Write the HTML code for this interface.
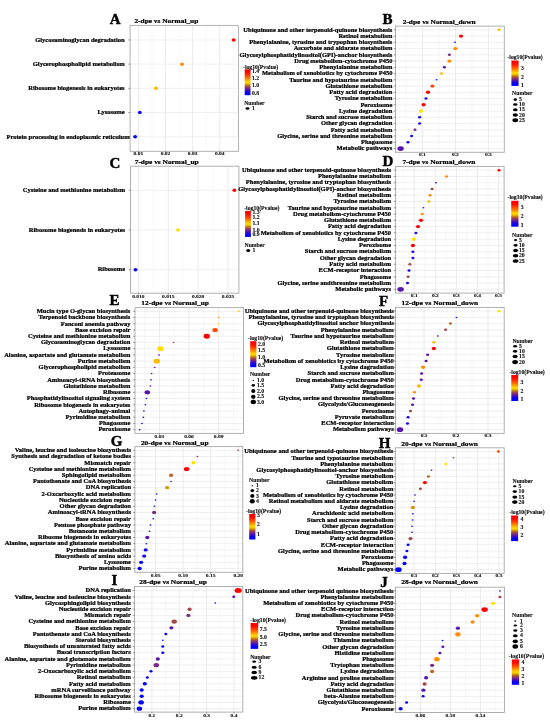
<!DOCTYPE html>
<html><head><meta charset="utf-8"><title>KEGG enrichment bubble plots</title>
<style>
html,body{margin:0;padding:0;background:#fff;}
body{width:550px;height:725px;overflow:hidden;}
svg{display:block;filter:blur(0.3px);}
.b{font-family:"Liberation Serif", "Times New Roman", serif;font-weight:bold;fill:#000;stroke:#000;stroke-width:0.24px;}
.l{font-family:"Liberation Serif", "Times New Roman", serif;font-weight:bold;fill:#111;stroke:#111;stroke-width:0.12px;}
</style></head><body>
<svg width="550" height="725" viewBox="0 0 550 725">
<defs><linearGradient id="cg" x1="0" y1="0" x2="0" y2="1"><stop offset="0" stop-color="#ff0000"/><stop offset="0.1" stop-color="#ff0000"/><stop offset="0.2" stop-color="#ff2a00"/><stop offset="0.3" stop-color="#ff6000"/><stop offset="0.4" stop-color="#ffa000"/><stop offset="0.5" stop-color="#ffe000"/><stop offset="0.58" stop-color="#d8a000"/><stop offset="0.65" stop-color="#b05030"/><stop offset="0.72" stop-color="#80307a"/><stop offset="0.8" stop-color="#5010b0"/><stop offset="0.88" stop-color="#0a05f0"/><stop offset="1" stop-color="#0000fa"/></linearGradient></defs>
<rect width="550" height="725" fill="#fff"/>
<line x1="138.4" y1="25.4" x2="138.4" y2="151.3" stroke="#e2e2e2" stroke-width="0.7"/>
<line x1="151.97" y1="25.4" x2="151.97" y2="151.3" stroke="#efefef" stroke-width="0.5"/>
<line x1="165.53" y1="25.4" x2="165.53" y2="151.3" stroke="#e2e2e2" stroke-width="0.7"/>
<line x1="179.1" y1="25.4" x2="179.1" y2="151.3" stroke="#efefef" stroke-width="0.5"/>
<line x1="192.67" y1="25.4" x2="192.67" y2="151.3" stroke="#e2e2e2" stroke-width="0.7"/>
<line x1="206.23" y1="25.4" x2="206.23" y2="151.3" stroke="#efefef" stroke-width="0.5"/>
<line x1="219.8" y1="25.4" x2="219.8" y2="151.3" stroke="#e2e2e2" stroke-width="0.7"/>
<line x1="233.37" y1="25.4" x2="233.37" y2="151.3" stroke="#efefef" stroke-width="0.5"/>
<line x1="130.1" y1="39.93" x2="238.4" y2="39.93" stroke="#e6e6e6" stroke-width="0.6"/>
<line x1="130.1" y1="64.14" x2="238.4" y2="64.14" stroke="#e6e6e6" stroke-width="0.6"/>
<line x1="130.1" y1="88.35" x2="238.4" y2="88.35" stroke="#e6e6e6" stroke-width="0.6"/>
<line x1="130.1" y1="112.56" x2="238.4" y2="112.56" stroke="#e6e6e6" stroke-width="0.6"/>
<line x1="130.1" y1="136.77" x2="238.4" y2="136.77" stroke="#e6e6e6" stroke-width="0.6"/>
<rect x="130.1" y="25.4" width="108.3" height="125.9" fill="none" stroke="#a8a8a8" stroke-width="0.9"/>
<line x1="128.3" y1="39.93" x2="130.1" y2="39.93" stroke="#555" stroke-width="0.6"/>
<text x="124.6" y="41.68" text-anchor="end" font-size="6.5" class="b">Glycosaminoglycan degradation</text>
<line x1="128.3" y1="64.14" x2="130.1" y2="64.14" stroke="#555" stroke-width="0.6"/>
<text x="124.6" y="65.89" text-anchor="end" font-size="6.5" class="b">Glycerophospholipid metabolism</text>
<line x1="128.3" y1="88.35" x2="130.1" y2="88.35" stroke="#555" stroke-width="0.6"/>
<text x="124.6" y="90.11" text-anchor="end" font-size="6.5" class="b">Ribosome biogenesis in eukaryotes</text>
<line x1="128.3" y1="112.56" x2="130.1" y2="112.56" stroke="#555" stroke-width="0.6"/>
<text x="124.6" y="114.32" text-anchor="end" font-size="6.5" class="b">Lysosome</text>
<line x1="128.3" y1="136.77" x2="130.1" y2="136.77" stroke="#555" stroke-width="0.6"/>
<text x="129.6" y="138.53" text-anchor="end" font-size="6.5" class="b">Protein processing in endoplasmic reticulum</text>
<line x1="138.4" y1="151.3" x2="138.4" y2="152.8" stroke="#555" stroke-width="0.6"/>
<text transform="translate(138.4 155.3) scale(1.1 1)" text-anchor="middle" font-size="5.0" class="l">0.01</text>
<line x1="165.53" y1="151.3" x2="165.53" y2="152.8" stroke="#555" stroke-width="0.6"/>
<text transform="translate(165.53 155.3) scale(1.1 1)" text-anchor="middle" font-size="5.0" class="l">0.02</text>
<line x1="192.67" y1="151.3" x2="192.67" y2="152.8" stroke="#555" stroke-width="0.6"/>
<text transform="translate(192.67 155.3) scale(1.1 1)" text-anchor="middle" font-size="5.0" class="l">0.03</text>
<line x1="219.8" y1="151.3" x2="219.8" y2="152.8" stroke="#555" stroke-width="0.6"/>
<text transform="translate(219.8 155.3) scale(1.1 1)" text-anchor="middle" font-size="5.0" class="l">0.04</text>
<ellipse cx="233.6" cy="39.93" rx="1.95" ry="1.75" fill="#ff0000"/>
<ellipse cx="182" cy="64.14" rx="1.95" ry="1.75" fill="#ff8d00"/>
<ellipse cx="156" cy="88.35" rx="1.95" ry="1.75" fill="#ffba00"/>
<ellipse cx="139.8" cy="112.56" rx="1.95" ry="1.75" fill="#1c08e0"/>
<ellipse cx="135.1" cy="136.77" rx="1.95" ry="1.75" fill="#0302f7"/>
<text x="109.8" y="24.1" font-size="15" class="b" style="stroke-width:0.45px">A</text>
<text transform="translate(134.4 23) scale(1.04 1)" font-size="7.1" class="b">2-dpe vs Normal_up</text>
<rect x="244.7" y="69.3" width="5.8" height="25.9" fill="url(#cg)"/>
<text transform="translate(243 68.72) scale(1.04 1)" font-size="5.5" class="l">-log10(Pvalue)</text>
<text transform="translate(252 72.61) scale(1.04 1)" font-size="5.5" class="l">1.4</text>
<text transform="translate(252 80.02) scale(1.04 1)" font-size="5.5" class="l">1.2</text>
<text transform="translate(252 87.41) scale(1.04 1)" font-size="5.5" class="l">1.0</text>
<text transform="translate(252 94.81) scale(1.04 1)" font-size="5.5" class="l">0.8</text>
<text transform="translate(244.2 104.72) scale(1.04 1)" font-size="5.5" class="l">Number</text>
<ellipse cx="247.5" cy="108.4" rx="2" ry="1.25" fill="#000"/>
<text transform="translate(252.1 110.05) scale(1.04 1)" font-size="5.5" class="l">1</text>
<line x1="405.9" y1="26.1" x2="405.9" y2="152.3" stroke="#efefef" stroke-width="0.5"/>
<line x1="422.4" y1="26.1" x2="422.4" y2="152.3" stroke="#e2e2e2" stroke-width="0.7"/>
<line x1="438.9" y1="26.1" x2="438.9" y2="152.3" stroke="#efefef" stroke-width="0.5"/>
<line x1="455.4" y1="26.1" x2="455.4" y2="152.3" stroke="#e2e2e2" stroke-width="0.7"/>
<line x1="471.9" y1="26.1" x2="471.9" y2="152.3" stroke="#efefef" stroke-width="0.5"/>
<line x1="488.4" y1="26.1" x2="488.4" y2="152.3" stroke="#e2e2e2" stroke-width="0.7"/>
<line x1="395.5" y1="29.85" x2="504.3" y2="29.85" stroke="#e6e6e6" stroke-width="0.6"/>
<line x1="395.5" y1="36.1" x2="504.3" y2="36.1" stroke="#e6e6e6" stroke-width="0.6"/>
<line x1="395.5" y1="42.34" x2="504.3" y2="42.34" stroke="#e6e6e6" stroke-width="0.6"/>
<line x1="395.5" y1="48.59" x2="504.3" y2="48.59" stroke="#e6e6e6" stroke-width="0.6"/>
<line x1="395.5" y1="54.84" x2="504.3" y2="54.84" stroke="#e6e6e6" stroke-width="0.6"/>
<line x1="395.5" y1="61.09" x2="504.3" y2="61.09" stroke="#e6e6e6" stroke-width="0.6"/>
<line x1="395.5" y1="67.33" x2="504.3" y2="67.33" stroke="#e6e6e6" stroke-width="0.6"/>
<line x1="395.5" y1="73.58" x2="504.3" y2="73.58" stroke="#e6e6e6" stroke-width="0.6"/>
<line x1="395.5" y1="79.83" x2="504.3" y2="79.83" stroke="#e6e6e6" stroke-width="0.6"/>
<line x1="395.5" y1="86.08" x2="504.3" y2="86.08" stroke="#e6e6e6" stroke-width="0.6"/>
<line x1="395.5" y1="92.32" x2="504.3" y2="92.32" stroke="#e6e6e6" stroke-width="0.6"/>
<line x1="395.5" y1="98.57" x2="504.3" y2="98.57" stroke="#e6e6e6" stroke-width="0.6"/>
<line x1="395.5" y1="104.82" x2="504.3" y2="104.82" stroke="#e6e6e6" stroke-width="0.6"/>
<line x1="395.5" y1="111.07" x2="504.3" y2="111.07" stroke="#e6e6e6" stroke-width="0.6"/>
<line x1="395.5" y1="117.31" x2="504.3" y2="117.31" stroke="#e6e6e6" stroke-width="0.6"/>
<line x1="395.5" y1="123.56" x2="504.3" y2="123.56" stroke="#e6e6e6" stroke-width="0.6"/>
<line x1="395.5" y1="129.81" x2="504.3" y2="129.81" stroke="#e6e6e6" stroke-width="0.6"/>
<line x1="395.5" y1="136.06" x2="504.3" y2="136.06" stroke="#e6e6e6" stroke-width="0.6"/>
<line x1="395.5" y1="142.3" x2="504.3" y2="142.3" stroke="#e6e6e6" stroke-width="0.6"/>
<line x1="395.5" y1="148.55" x2="504.3" y2="148.55" stroke="#e6e6e6" stroke-width="0.6"/>
<rect x="395.5" y="26.1" width="108.8" height="126.2" fill="none" stroke="#a8a8a8" stroke-width="0.9"/>
<line x1="393.7" y1="29.85" x2="395.5" y2="29.85" stroke="#555" stroke-width="0.6"/>
<text x="392.4" y="31.6" text-anchor="end" font-size="6.5" class="b">Ubiquinone and other terpenoid-quinone biosynthesis</text>
<line x1="393.7" y1="36.1" x2="395.5" y2="36.1" stroke="#555" stroke-width="0.6"/>
<text x="392.4" y="37.85" text-anchor="end" font-size="6.5" class="b">Retinol metabolism</text>
<line x1="393.7" y1="42.34" x2="395.5" y2="42.34" stroke="#555" stroke-width="0.6"/>
<text x="392.4" y="44.1" text-anchor="end" font-size="6.5" class="b">Phenylalanine, tyrosine and trypophan biosynthesis</text>
<line x1="393.7" y1="48.59" x2="395.5" y2="48.59" stroke="#555" stroke-width="0.6"/>
<text x="392.4" y="50.35" text-anchor="end" font-size="6.5" class="b">Ascorbate and aldarate metabolism</text>
<line x1="393.7" y1="54.84" x2="395.5" y2="54.84" stroke="#555" stroke-width="0.6"/>
<text x="392.4" y="56.59" text-anchor="end" font-size="6.5" class="b">Glycosylphosphatidylinositol(GPI)-anchor biosynthesis</text>
<line x1="393.7" y1="61.09" x2="395.5" y2="61.09" stroke="#555" stroke-width="0.6"/>
<text x="392.4" y="62.84" text-anchor="end" font-size="6.5" class="b">Drug metabolism-cytochrome P450</text>
<line x1="393.7" y1="67.33" x2="395.5" y2="67.33" stroke="#555" stroke-width="0.6"/>
<text x="392.4" y="69.09" text-anchor="end" font-size="6.5" class="b">Phenylalanine metabolism</text>
<line x1="393.7" y1="73.58" x2="395.5" y2="73.58" stroke="#555" stroke-width="0.6"/>
<text x="392.4" y="75.34" text-anchor="end" font-size="6.5" class="b">Metabolism of xenobiotics by cytochrome P450</text>
<line x1="393.7" y1="79.83" x2="395.5" y2="79.83" stroke="#555" stroke-width="0.6"/>
<text x="392.4" y="81.58" text-anchor="end" font-size="6.5" class="b">Taurine and hypotaurine metabolism</text>
<line x1="393.7" y1="86.08" x2="395.5" y2="86.08" stroke="#555" stroke-width="0.6"/>
<text x="392.4" y="87.83" text-anchor="end" font-size="6.5" class="b">Glutathione metabolism</text>
<line x1="393.7" y1="92.32" x2="395.5" y2="92.32" stroke="#555" stroke-width="0.6"/>
<text x="392.4" y="94.08" text-anchor="end" font-size="6.5" class="b">Fatty acid degradation</text>
<line x1="393.7" y1="98.57" x2="395.5" y2="98.57" stroke="#555" stroke-width="0.6"/>
<text x="392.4" y="100.33" text-anchor="end" font-size="6.5" class="b">Tyrosine metabolism</text>
<line x1="393.7" y1="104.82" x2="395.5" y2="104.82" stroke="#555" stroke-width="0.6"/>
<text x="392.4" y="106.57" text-anchor="end" font-size="6.5" class="b">Peroxisome</text>
<line x1="393.7" y1="111.07" x2="395.5" y2="111.07" stroke="#555" stroke-width="0.6"/>
<text x="392.4" y="112.82" text-anchor="end" font-size="6.5" class="b">Lysine degradation</text>
<line x1="393.7" y1="117.31" x2="395.5" y2="117.31" stroke="#555" stroke-width="0.6"/>
<text x="392.4" y="119.07" text-anchor="end" font-size="6.5" class="b">Starch and sucrose metabolism</text>
<line x1="393.7" y1="123.56" x2="395.5" y2="123.56" stroke="#555" stroke-width="0.6"/>
<text x="392.4" y="125.32" text-anchor="end" font-size="6.5" class="b">Other glycan degradation</text>
<line x1="393.7" y1="129.81" x2="395.5" y2="129.81" stroke="#555" stroke-width="0.6"/>
<text x="392.4" y="131.56" text-anchor="end" font-size="6.5" class="b">Fatty acid metabolism</text>
<line x1="393.7" y1="136.06" x2="395.5" y2="136.06" stroke="#555" stroke-width="0.6"/>
<text x="392.4" y="137.81" text-anchor="end" font-size="6.5" class="b">Glycine, serine and threonine metabolism</text>
<line x1="393.7" y1="142.3" x2="395.5" y2="142.3" stroke="#555" stroke-width="0.6"/>
<text x="392.4" y="144.06" text-anchor="end" font-size="6.5" class="b">Phagosome</text>
<line x1="393.7" y1="148.55" x2="395.5" y2="148.55" stroke="#555" stroke-width="0.6"/>
<text x="392.4" y="150.31" text-anchor="end" font-size="6.5" class="b">Metabolic pathways</text>
<line x1="422.4" y1="152.3" x2="422.4" y2="153.8" stroke="#555" stroke-width="0.6"/>
<text transform="translate(422.4 156.3) scale(1.1 1)" text-anchor="middle" font-size="5.0" class="l">0.1</text>
<line x1="455.4" y1="152.3" x2="455.4" y2="153.8" stroke="#555" stroke-width="0.6"/>
<text transform="translate(455.4 156.3) scale(1.1 1)" text-anchor="middle" font-size="5.0" class="l">0.2</text>
<line x1="488.4" y1="152.3" x2="488.4" y2="153.8" stroke="#555" stroke-width="0.6"/>
<text transform="translate(488.4 156.3) scale(1.1 1)" text-anchor="middle" font-size="5.0" class="l">0.3</text>
<ellipse cx="499" cy="29.85" rx="1.55" ry="1.25" fill="#ffba00"/>
<ellipse cx="461" cy="36.1" rx="2.1" ry="1.7" fill="#ff0000"/>
<ellipse cx="455" cy="42.34" rx="0.9" ry="0.75" fill="#0302f7"/>
<ellipse cx="455.4" cy="48.59" rx="2.1" ry="1.7" fill="#ff8d00"/>
<ellipse cx="449.4" cy="54.84" rx="1.55" ry="1.25" fill="#7a2c81"/>
<ellipse cx="449.4" cy="61.09" rx="2.1" ry="1.7" fill="#ff8d00"/>
<ellipse cx="444.4" cy="67.33" rx="1.55" ry="1.25" fill="#5614a9"/>
<ellipse cx="441.6" cy="73.58" rx="1.55" ry="1.25" fill="#ffba00"/>
<ellipse cx="436.6" cy="79.83" rx="0.9" ry="0.75" fill="#0302f7"/>
<ellipse cx="432.4" cy="86.08" rx="2.1" ry="1.7" fill="#ff4500"/>
<ellipse cx="428" cy="92.32" rx="2.1" ry="1.7" fill="#ff0000"/>
<ellipse cx="426" cy="98.57" rx="1.55" ry="1.25" fill="#1c08e0"/>
<ellipse cx="423.6" cy="104.82" rx="2.1" ry="1.7" fill="#ff0000"/>
<ellipse cx="421" cy="111.07" rx="2.1" ry="1.7" fill="#ffe000"/>
<ellipse cx="419.6" cy="117.31" rx="1.55" ry="1.25" fill="#1c08e0"/>
<ellipse cx="419.6" cy="123.56" rx="1.55" ry="1.25" fill="#1c08e0"/>
<ellipse cx="415" cy="129.81" rx="1.55" ry="1.25" fill="#7a2c81"/>
<ellipse cx="411.6" cy="136.06" rx="1.55" ry="1.25" fill="#1c08e0"/>
<ellipse cx="408" cy="142.3" rx="1.55" ry="1.25" fill="#1c08e0"/>
<ellipse cx="400.6" cy="148.55" rx="3.2" ry="2.4" fill="#5614a9"/>
<text x="382.4" y="23.5" font-size="15" class="b" style="stroke-width:0.45px">B</text>
<text transform="translate(402.7 23.9) scale(1.04 1)" font-size="7.1" class="b">2-dpe vs Normal_down</text>
<rect x="511.4" y="60.5" width="7.2" height="25.4" fill="url(#cg)"/>
<text transform="translate(507.4 58.52) scale(1.04 1)" font-size="5.5" class="l">-log10(Pvalue)</text>
<text transform="translate(520.9 70.11) scale(1.04 1)" font-size="5.5" class="l">3</text>
<text transform="translate(520.9 79.31) scale(1.04 1)" font-size="5.5" class="l">2</text>
<text transform="translate(520.9 87.11) scale(1.04 1)" font-size="5.5" class="l">1</text>
<text transform="translate(512.1 95.02) scale(1.04 1)" font-size="5.5" class="l">Number</text>
<ellipse cx="515.3" cy="99.6" rx="1.7" ry="1.3" fill="#000"/>
<text transform="translate(519.1 101.25) scale(1.04 1)" font-size="5.5" class="l">5</text>
<ellipse cx="515.3" cy="104.5" rx="2.25" ry="1.3" fill="#000"/>
<text transform="translate(519.1 106.15) scale(1.04 1)" font-size="5.5" class="l">10</text>
<ellipse cx="515.3" cy="109.7" rx="2.35" ry="1.55" fill="#000"/>
<text transform="translate(519.1 111.35) scale(1.04 1)" font-size="5.5" class="l">15</text>
<ellipse cx="515.3" cy="115" rx="2.65" ry="1.8" fill="#000"/>
<text transform="translate(519.1 116.65) scale(1.04 1)" font-size="5.5" class="l">20</text>
<ellipse cx="515.3" cy="120.2" rx="2.9" ry="1.95" fill="#000"/>
<text transform="translate(519.1 121.85) scale(1.04 1)" font-size="5.5" class="l">25</text>
<line x1="138.4" y1="166.2" x2="138.4" y2="293.2" stroke="#e2e2e2" stroke-width="0.7"/>
<line x1="153.33" y1="166.2" x2="153.33" y2="293.2" stroke="#efefef" stroke-width="0.5"/>
<line x1="168.27" y1="166.2" x2="168.27" y2="293.2" stroke="#e2e2e2" stroke-width="0.7"/>
<line x1="183.2" y1="166.2" x2="183.2" y2="293.2" stroke="#efefef" stroke-width="0.5"/>
<line x1="198.13" y1="166.2" x2="198.13" y2="293.2" stroke="#e2e2e2" stroke-width="0.7"/>
<line x1="213.07" y1="166.2" x2="213.07" y2="293.2" stroke="#efefef" stroke-width="0.5"/>
<line x1="228" y1="166.2" x2="228" y2="293.2" stroke="#e2e2e2" stroke-width="0.7"/>
<line x1="130.6" y1="190.31" x2="238.9" y2="190.31" stroke="#e6e6e6" stroke-width="0.6"/>
<line x1="130.6" y1="230" x2="238.9" y2="230" stroke="#e6e6e6" stroke-width="0.6"/>
<line x1="130.6" y1="269.69" x2="238.9" y2="269.69" stroke="#e6e6e6" stroke-width="0.6"/>
<rect x="130.6" y="166.2" width="108.3" height="127" fill="none" stroke="#a8a8a8" stroke-width="0.9"/>
<line x1="128.8" y1="190.31" x2="130.6" y2="190.31" stroke="#555" stroke-width="0.6"/>
<text x="125.1" y="192.07" text-anchor="end" font-size="6.5" class="b">Cysteine and methionine metabolism</text>
<line x1="128.8" y1="230" x2="130.6" y2="230" stroke="#555" stroke-width="0.6"/>
<text x="125.1" y="231.75" text-anchor="end" font-size="6.5" class="b">Ribosome biogenesis in eukaryotes</text>
<line x1="128.8" y1="269.69" x2="130.6" y2="269.69" stroke="#555" stroke-width="0.6"/>
<text x="125.1" y="271.44" text-anchor="end" font-size="6.5" class="b">Ribosome</text>
<line x1="138.4" y1="293.2" x2="138.4" y2="294.7" stroke="#555" stroke-width="0.6"/>
<text transform="translate(138.4 298.4) scale(1.1 1)" text-anchor="middle" font-size="5.0" class="l">0.010</text>
<line x1="168.27" y1="293.2" x2="168.27" y2="294.7" stroke="#555" stroke-width="0.6"/>
<text transform="translate(168.27 298.4) scale(1.1 1)" text-anchor="middle" font-size="5.0" class="l">0.015</text>
<line x1="198.13" y1="293.2" x2="198.13" y2="294.7" stroke="#555" stroke-width="0.6"/>
<text transform="translate(198.13 298.4) scale(1.1 1)" text-anchor="middle" font-size="5.0" class="l">0.020</text>
<line x1="228" y1="293.2" x2="228" y2="294.7" stroke="#555" stroke-width="0.6"/>
<text transform="translate(228 298.4) scale(1.1 1)" text-anchor="middle" font-size="5.0" class="l">0.025</text>
<ellipse cx="234.4" cy="190.31" rx="1.95" ry="1.75" fill="#ff0000"/>
<ellipse cx="178" cy="230" rx="1.95" ry="1.75" fill="#ffe000"/>
<ellipse cx="135.5" cy="269.69" rx="1.95" ry="1.75" fill="#0302f7"/>
<text x="109.5" y="167.7" font-size="15" class="b" style="stroke-width:0.45px">C</text>
<text transform="translate(134.7 164.1) scale(1.04 1)" font-size="7.1" class="b">7-dpe vs Normal_up</text>
<rect x="245.1" y="210.9" width="5.8" height="26.1" fill="url(#cg)"/>
<text transform="translate(244.2 209.81) scale(1.04 1)" font-size="5.5" class="l">-log10(Pvalue)</text>
<text transform="translate(252.4 213.72) scale(1.04 1)" font-size="5.5" class="l">1.3</text>
<text transform="translate(252.4 218.81) scale(1.04 1)" font-size="5.5" class="l">1.2</text>
<text transform="translate(252.4 225.31) scale(1.04 1)" font-size="5.5" class="l">1.1</text>
<text transform="translate(252.4 232.01) scale(1.04 1)" font-size="5.5" class="l">1.0</text>
<text transform="translate(252.4 236.41) scale(1.04 1)" font-size="5.5" class="l">0.9</text>
<text transform="translate(244.5 247.22) scale(1.04 1)" font-size="5.5" class="l">Number</text>
<ellipse cx="248.2" cy="250.5" rx="2" ry="1.5" fill="#000"/>
<text transform="translate(252.6 252.15) scale(1.04 1)" font-size="5.5" class="l">1</text>
<line x1="403.78" y1="166.4" x2="403.78" y2="293.1" stroke="#efefef" stroke-width="0.5"/>
<line x1="414.3" y1="166.4" x2="414.3" y2="293.1" stroke="#e2e2e2" stroke-width="0.7"/>
<line x1="424.82" y1="166.4" x2="424.82" y2="293.1" stroke="#efefef" stroke-width="0.5"/>
<line x1="435.35" y1="166.4" x2="435.35" y2="293.1" stroke="#e2e2e2" stroke-width="0.7"/>
<line x1="445.88" y1="166.4" x2="445.88" y2="293.1" stroke="#efefef" stroke-width="0.5"/>
<line x1="456.4" y1="166.4" x2="456.4" y2="293.1" stroke="#e2e2e2" stroke-width="0.7"/>
<line x1="466.93" y1="166.4" x2="466.93" y2="293.1" stroke="#efefef" stroke-width="0.5"/>
<line x1="477.45" y1="166.4" x2="477.45" y2="293.1" stroke="#e2e2e2" stroke-width="0.7"/>
<line x1="487.98" y1="166.4" x2="487.98" y2="293.1" stroke="#efefef" stroke-width="0.5"/>
<line x1="498.5" y1="166.4" x2="498.5" y2="293.1" stroke="#e2e2e2" stroke-width="0.7"/>
<line x1="395.6" y1="170.16" x2="504.1" y2="170.16" stroke="#e6e6e6" stroke-width="0.6"/>
<line x1="395.6" y1="176.44" x2="504.1" y2="176.44" stroke="#e6e6e6" stroke-width="0.6"/>
<line x1="395.6" y1="182.71" x2="504.1" y2="182.71" stroke="#e6e6e6" stroke-width="0.6"/>
<line x1="395.6" y1="188.98" x2="504.1" y2="188.98" stroke="#e6e6e6" stroke-width="0.6"/>
<line x1="395.6" y1="195.25" x2="504.1" y2="195.25" stroke="#e6e6e6" stroke-width="0.6"/>
<line x1="395.6" y1="201.52" x2="504.1" y2="201.52" stroke="#e6e6e6" stroke-width="0.6"/>
<line x1="395.6" y1="207.8" x2="504.1" y2="207.8" stroke="#e6e6e6" stroke-width="0.6"/>
<line x1="395.6" y1="214.07" x2="504.1" y2="214.07" stroke="#e6e6e6" stroke-width="0.6"/>
<line x1="395.6" y1="220.34" x2="504.1" y2="220.34" stroke="#e6e6e6" stroke-width="0.6"/>
<line x1="395.6" y1="226.61" x2="504.1" y2="226.61" stroke="#e6e6e6" stroke-width="0.6"/>
<line x1="395.6" y1="232.89" x2="504.1" y2="232.89" stroke="#e6e6e6" stroke-width="0.6"/>
<line x1="395.6" y1="239.16" x2="504.1" y2="239.16" stroke="#e6e6e6" stroke-width="0.6"/>
<line x1="395.6" y1="245.43" x2="504.1" y2="245.43" stroke="#e6e6e6" stroke-width="0.6"/>
<line x1="395.6" y1="251.7" x2="504.1" y2="251.7" stroke="#e6e6e6" stroke-width="0.6"/>
<line x1="395.6" y1="257.98" x2="504.1" y2="257.98" stroke="#e6e6e6" stroke-width="0.6"/>
<line x1="395.6" y1="264.25" x2="504.1" y2="264.25" stroke="#e6e6e6" stroke-width="0.6"/>
<line x1="395.6" y1="270.52" x2="504.1" y2="270.52" stroke="#e6e6e6" stroke-width="0.6"/>
<line x1="395.6" y1="276.79" x2="504.1" y2="276.79" stroke="#e6e6e6" stroke-width="0.6"/>
<line x1="395.6" y1="283.06" x2="504.1" y2="283.06" stroke="#e6e6e6" stroke-width="0.6"/>
<line x1="395.6" y1="289.34" x2="504.1" y2="289.34" stroke="#e6e6e6" stroke-width="0.6"/>
<rect x="395.6" y="166.4" width="108.5" height="126.7" fill="none" stroke="#a8a8a8" stroke-width="0.9"/>
<line x1="393.8" y1="170.16" x2="395.6" y2="170.16" stroke="#555" stroke-width="0.6"/>
<text x="391.1" y="171.92" text-anchor="end" font-size="6.5" class="b">Ubiquinone and other terpenoid-quinone biosynthesis</text>
<line x1="393.8" y1="176.44" x2="395.6" y2="176.44" stroke="#555" stroke-width="0.6"/>
<text x="391.1" y="178.19" text-anchor="end" font-size="6.5" class="b">Phenylalanine metabolism</text>
<line x1="393.8" y1="182.71" x2="395.6" y2="182.71" stroke="#555" stroke-width="0.6"/>
<text x="391.1" y="184.46" text-anchor="end" font-size="6.5" class="b">Phenylalanine, tyrosine and tryptophan biosynthesis</text>
<line x1="393.8" y1="188.98" x2="395.6" y2="188.98" stroke="#555" stroke-width="0.6"/>
<text x="391.1" y="190.74" text-anchor="end" font-size="6.5" class="b">Glycosylphosphatidylinositol(GPI)-anchor biosynthesis</text>
<line x1="393.8" y1="195.25" x2="395.6" y2="195.25" stroke="#555" stroke-width="0.6"/>
<text x="391.1" y="197.01" text-anchor="end" font-size="6.5" class="b">Retinol metabolism</text>
<line x1="393.8" y1="201.52" x2="395.6" y2="201.52" stroke="#555" stroke-width="0.6"/>
<text x="391.1" y="203.28" text-anchor="end" font-size="6.5" class="b">Tyrosine metabolism</text>
<line x1="393.8" y1="207.8" x2="395.6" y2="207.8" stroke="#555" stroke-width="0.6"/>
<text x="391.1" y="209.55" text-anchor="end" font-size="6.5" class="b">Taurine and hypotaurine metabolism</text>
<line x1="393.8" y1="214.07" x2="395.6" y2="214.07" stroke="#555" stroke-width="0.6"/>
<text x="391.1" y="215.82" text-anchor="end" font-size="6.5" class="b">Drug metabolism-cytochrome P450</text>
<line x1="393.8" y1="220.34" x2="395.6" y2="220.34" stroke="#555" stroke-width="0.6"/>
<text x="391.1" y="222.1" text-anchor="end" font-size="6.5" class="b">Glutathione metabolism</text>
<line x1="393.8" y1="226.61" x2="395.6" y2="226.61" stroke="#555" stroke-width="0.6"/>
<text x="391.1" y="228.37" text-anchor="end" font-size="6.5" class="b">Fatty acid degradation</text>
<line x1="393.8" y1="232.89" x2="395.6" y2="232.89" stroke="#555" stroke-width="0.6"/>
<text x="391.1" y="234.64" text-anchor="end" font-size="6.5" class="b">Metabolism of xenobiotics by cytochrome P450</text>
<line x1="393.8" y1="239.16" x2="395.6" y2="239.16" stroke="#555" stroke-width="0.6"/>
<text x="391.1" y="240.91" text-anchor="end" font-size="6.5" class="b">Lysine degradation</text>
<line x1="393.8" y1="245.43" x2="395.6" y2="245.43" stroke="#555" stroke-width="0.6"/>
<text x="391.1" y="247.19" text-anchor="end" font-size="6.5" class="b">Peroxisome</text>
<line x1="393.8" y1="251.7" x2="395.6" y2="251.7" stroke="#555" stroke-width="0.6"/>
<text x="391.1" y="253.46" text-anchor="end" font-size="6.5" class="b">Starch and sucrose metabolism</text>
<line x1="393.8" y1="257.98" x2="395.6" y2="257.98" stroke="#555" stroke-width="0.6"/>
<text x="391.1" y="259.73" text-anchor="end" font-size="6.5" class="b">Other glycan degradation</text>
<line x1="393.8" y1="264.25" x2="395.6" y2="264.25" stroke="#555" stroke-width="0.6"/>
<text x="391.1" y="266" text-anchor="end" font-size="6.5" class="b">Fatty acid metabolism</text>
<line x1="393.8" y1="270.52" x2="395.6" y2="270.52" stroke="#555" stroke-width="0.6"/>
<text x="391.1" y="272.27" text-anchor="end" font-size="6.5" class="b">ECM-receptor interaction</text>
<line x1="393.8" y1="276.79" x2="395.6" y2="276.79" stroke="#555" stroke-width="0.6"/>
<text x="391.1" y="278.55" text-anchor="end" font-size="6.5" class="b">Phagosome</text>
<line x1="393.8" y1="283.06" x2="395.6" y2="283.06" stroke="#555" stroke-width="0.6"/>
<text x="391.1" y="284.82" text-anchor="end" font-size="6.5" class="b">Glycine, serine andthreonine metabolism</text>
<line x1="393.8" y1="289.34" x2="395.6" y2="289.34" stroke="#555" stroke-width="0.6"/>
<text x="391.1" y="291.09" text-anchor="end" font-size="6.5" class="b">Metabolic pathways</text>
<line x1="414.3" y1="293.1" x2="414.3" y2="294.6" stroke="#555" stroke-width="0.6"/>
<text transform="translate(414.3 297.1) scale(1.1 1)" text-anchor="middle" font-size="5.0" class="l">0.1</text>
<line x1="435.35" y1="293.1" x2="435.35" y2="294.6" stroke="#555" stroke-width="0.6"/>
<text transform="translate(435.35 297.1) scale(1.1 1)" text-anchor="middle" font-size="5.0" class="l">0.2</text>
<line x1="456.4" y1="293.1" x2="456.4" y2="294.6" stroke="#555" stroke-width="0.6"/>
<text transform="translate(456.4 297.1) scale(1.1 1)" text-anchor="middle" font-size="5.0" class="l">0.3</text>
<line x1="477.45" y1="293.1" x2="477.45" y2="294.6" stroke="#555" stroke-width="0.6"/>
<text transform="translate(477.45 297.1) scale(1.1 1)" text-anchor="middle" font-size="5.0" class="l">0.4</text>
<line x1="498.5" y1="293.1" x2="498.5" y2="294.6" stroke="#555" stroke-width="0.6"/>
<text transform="translate(498.5 297.1) scale(1.1 1)" text-anchor="middle" font-size="5.0" class="l">0.5</text>
<ellipse cx="499" cy="170.16" rx="1.55" ry="1.25" fill="#ff0000"/>
<ellipse cx="446.5" cy="176.44" rx="1.55" ry="1.25" fill="#ff8d00"/>
<ellipse cx="436" cy="182.71" rx="0.9" ry="0.75" fill="#0302f7"/>
<ellipse cx="432.1" cy="188.98" rx="1.55" ry="1.25" fill="#a24745"/>
<ellipse cx="430" cy="195.25" rx="1.55" ry="1.25" fill="#ff8d00"/>
<ellipse cx="428.8" cy="201.52" rx="1.55" ry="1.25" fill="#ffba00"/>
<ellipse cx="423.4" cy="207.8" rx="0.9" ry="0.75" fill="#1c08e0"/>
<ellipse cx="422.2" cy="214.07" rx="1.55" ry="1.25" fill="#ff8d00"/>
<ellipse cx="421" cy="220.34" rx="2.1" ry="1.7" fill="#ff0000"/>
<ellipse cx="418" cy="226.61" rx="2.1" ry="1.7" fill="#ff0000"/>
<ellipse cx="415.9" cy="232.89" rx="1.55" ry="1.25" fill="#1c08e0"/>
<ellipse cx="413.8" cy="239.16" rx="2.1" ry="1.7" fill="#ffe000"/>
<ellipse cx="412.9" cy="245.43" rx="2.1" ry="1.7" fill="#ff0000"/>
<ellipse cx="412.9" cy="251.7" rx="1.55" ry="1.25" fill="#1c08e0"/>
<ellipse cx="412.9" cy="257.98" rx="1.55" ry="1.25" fill="#1c08e0"/>
<ellipse cx="409.9" cy="264.25" rx="1.55" ry="1.25" fill="#a24745"/>
<ellipse cx="409" cy="270.52" rx="1.55" ry="1.25" fill="#1c08e0"/>
<ellipse cx="408.1" cy="276.79" rx="1.55" ry="1.25" fill="#a24745"/>
<ellipse cx="407.5" cy="283.06" rx="1.55" ry="1.25" fill="#1c08e0"/>
<ellipse cx="400.6" cy="289.34" rx="3.2" ry="2.4" fill="#5614a9"/>
<text x="382.4" y="166" font-size="15" class="b" style="stroke-width:0.45px">D</text>
<text transform="translate(402.4 164.2) scale(1.04 1)" font-size="7.1" class="b">7-dpe vs Normal_down</text>
<rect x="511.2" y="200.8" width="7.3" height="25.9" fill="url(#cg)"/>
<text transform="translate(507.5 199.41) scale(1.04 1)" font-size="5.5" class="l">-log10(Pvalue)</text>
<text transform="translate(520.8 209.12) scale(1.04 1)" font-size="5.5" class="l">3</text>
<text transform="translate(520.8 218.22) scale(1.04 1)" font-size="5.5" class="l">2</text>
<text transform="translate(520.8 226.72) scale(1.04 1)" font-size="5.5" class="l">1</text>
<text transform="translate(512.1 237.31) scale(1.04 1)" font-size="5.5" class="l">Number</text>
<ellipse cx="515.6" cy="240.1" rx="1.55" ry="1.15" fill="#000"/>
<text transform="translate(519 241.75) scale(1.04 1)" font-size="5.5" class="l">5</text>
<ellipse cx="515.6" cy="245.3" rx="2.15" ry="1.35" fill="#000"/>
<text transform="translate(519 246.95) scale(1.04 1)" font-size="5.5" class="l">10</text>
<ellipse cx="515.6" cy="250.5" rx="2.5" ry="1.7" fill="#000"/>
<text transform="translate(519 252.15) scale(1.04 1)" font-size="5.5" class="l">15</text>
<ellipse cx="515.6" cy="255.8" rx="2.8" ry="1.8" fill="#000"/>
<text transform="translate(519 257.45) scale(1.04 1)" font-size="5.5" class="l">20</text>
<ellipse cx="515.6" cy="261" rx="2.9" ry="1.8" fill="#000"/>
<text transform="translate(519 262.65) scale(1.04 1)" font-size="5.5" class="l">25</text>
<line x1="144.6" y1="307.6" x2="144.6" y2="433.4" stroke="#efefef" stroke-width="0.5"/>
<line x1="159.4" y1="307.6" x2="159.4" y2="433.4" stroke="#e2e2e2" stroke-width="0.7"/>
<line x1="174.2" y1="307.6" x2="174.2" y2="433.4" stroke="#efefef" stroke-width="0.5"/>
<line x1="189" y1="307.6" x2="189" y2="433.4" stroke="#e2e2e2" stroke-width="0.7"/>
<line x1="203.8" y1="307.6" x2="203.8" y2="433.4" stroke="#efefef" stroke-width="0.5"/>
<line x1="218.6" y1="307.6" x2="218.6" y2="433.4" stroke="#e2e2e2" stroke-width="0.7"/>
<line x1="233.4" y1="307.6" x2="233.4" y2="433.4" stroke="#efefef" stroke-width="0.5"/>
<line x1="135" y1="311.34" x2="243.5" y2="311.34" stroke="#e6e6e6" stroke-width="0.6"/>
<line x1="135" y1="317.56" x2="243.5" y2="317.56" stroke="#e6e6e6" stroke-width="0.6"/>
<line x1="135" y1="323.79" x2="243.5" y2="323.79" stroke="#e6e6e6" stroke-width="0.6"/>
<line x1="135" y1="330.02" x2="243.5" y2="330.02" stroke="#e6e6e6" stroke-width="0.6"/>
<line x1="135" y1="336.25" x2="243.5" y2="336.25" stroke="#e6e6e6" stroke-width="0.6"/>
<line x1="135" y1="342.48" x2="243.5" y2="342.48" stroke="#e6e6e6" stroke-width="0.6"/>
<line x1="135" y1="348.7" x2="243.5" y2="348.7" stroke="#e6e6e6" stroke-width="0.6"/>
<line x1="135" y1="354.93" x2="243.5" y2="354.93" stroke="#e6e6e6" stroke-width="0.6"/>
<line x1="135" y1="361.16" x2="243.5" y2="361.16" stroke="#e6e6e6" stroke-width="0.6"/>
<line x1="135" y1="367.39" x2="243.5" y2="367.39" stroke="#e6e6e6" stroke-width="0.6"/>
<line x1="135" y1="373.61" x2="243.5" y2="373.61" stroke="#e6e6e6" stroke-width="0.6"/>
<line x1="135" y1="379.84" x2="243.5" y2="379.84" stroke="#e6e6e6" stroke-width="0.6"/>
<line x1="135" y1="386.07" x2="243.5" y2="386.07" stroke="#e6e6e6" stroke-width="0.6"/>
<line x1="135" y1="392.3" x2="243.5" y2="392.3" stroke="#e6e6e6" stroke-width="0.6"/>
<line x1="135" y1="398.52" x2="243.5" y2="398.52" stroke="#e6e6e6" stroke-width="0.6"/>
<line x1="135" y1="404.75" x2="243.5" y2="404.75" stroke="#e6e6e6" stroke-width="0.6"/>
<line x1="135" y1="410.98" x2="243.5" y2="410.98" stroke="#e6e6e6" stroke-width="0.6"/>
<line x1="135" y1="417.21" x2="243.5" y2="417.21" stroke="#e6e6e6" stroke-width="0.6"/>
<line x1="135" y1="423.44" x2="243.5" y2="423.44" stroke="#e6e6e6" stroke-width="0.6"/>
<line x1="135" y1="429.66" x2="243.5" y2="429.66" stroke="#e6e6e6" stroke-width="0.6"/>
<rect x="135" y="307.6" width="108.5" height="125.8" fill="none" stroke="#a8a8a8" stroke-width="0.9"/>
<line x1="133.2" y1="311.34" x2="135" y2="311.34" stroke="#555" stroke-width="0.6"/>
<text x="130.4" y="313.09" text-anchor="end" font-size="6.5" class="b">Mucin type O-glycan biosynthesis</text>
<line x1="133.2" y1="317.56" x2="135" y2="317.56" stroke="#555" stroke-width="0.6"/>
<text x="130.4" y="319.32" text-anchor="end" font-size="6.5" class="b">Terpenoid backbone biosynthesis</text>
<line x1="133.2" y1="323.79" x2="135" y2="323.79" stroke="#555" stroke-width="0.6"/>
<text x="130.4" y="325.55" text-anchor="end" font-size="6.5" class="b">Fanconi anemia pathway</text>
<line x1="133.2" y1="330.02" x2="135" y2="330.02" stroke="#555" stroke-width="0.6"/>
<text x="130.4" y="331.77" text-anchor="end" font-size="6.5" class="b">Base excision repair</text>
<line x1="133.2" y1="336.25" x2="135" y2="336.25" stroke="#555" stroke-width="0.6"/>
<text x="130.4" y="338" text-anchor="end" font-size="6.5" class="b">Cysteine and methionine metabolism</text>
<line x1="133.2" y1="342.48" x2="135" y2="342.48" stroke="#555" stroke-width="0.6"/>
<text x="130.4" y="344.23" text-anchor="end" font-size="6.5" class="b">Glycosaminoglycan degradation</text>
<line x1="133.2" y1="348.7" x2="135" y2="348.7" stroke="#555" stroke-width="0.6"/>
<text x="130.4" y="350.46" text-anchor="end" font-size="6.5" class="b">Lysosome</text>
<line x1="133.2" y1="354.93" x2="135" y2="354.93" stroke="#555" stroke-width="0.6"/>
<text x="130.4" y="356.69" text-anchor="end" font-size="6.5" class="b">Alanine, aspartate and glutamate metabolism</text>
<line x1="133.2" y1="361.16" x2="135" y2="361.16" stroke="#555" stroke-width="0.6"/>
<text x="130.4" y="362.91" text-anchor="end" font-size="6.5" class="b">Purine metabolism</text>
<line x1="133.2" y1="367.39" x2="135" y2="367.39" stroke="#555" stroke-width="0.6"/>
<text x="130.4" y="369.14" text-anchor="end" font-size="6.5" class="b">Glycerophospholipid metabolism</text>
<line x1="133.2" y1="373.61" x2="135" y2="373.61" stroke="#555" stroke-width="0.6"/>
<text x="130.4" y="375.37" text-anchor="end" font-size="6.5" class="b">Proteasome</text>
<line x1="133.2" y1="379.84" x2="135" y2="379.84" stroke="#555" stroke-width="0.6"/>
<text x="130.4" y="381.6" text-anchor="end" font-size="6.5" class="b">Aminoacyl-tRNA biosynthesis</text>
<line x1="133.2" y1="386.07" x2="135" y2="386.07" stroke="#555" stroke-width="0.6"/>
<text x="130.4" y="387.82" text-anchor="end" font-size="6.5" class="b">Glutathione metabolism</text>
<line x1="133.2" y1="392.3" x2="135" y2="392.3" stroke="#555" stroke-width="0.6"/>
<text x="130.4" y="394.05" text-anchor="end" font-size="6.5" class="b">Ribosome</text>
<line x1="133.2" y1="398.52" x2="135" y2="398.52" stroke="#555" stroke-width="0.6"/>
<text x="130.4" y="400.28" text-anchor="end" font-size="6.5" class="b">Phosphatidylinositol signaling system</text>
<line x1="133.2" y1="404.75" x2="135" y2="404.75" stroke="#555" stroke-width="0.6"/>
<text x="130.4" y="406.51" text-anchor="end" font-size="6.5" class="b">Ribosome biogenesis in eukaryotes</text>
<line x1="133.2" y1="410.98" x2="135" y2="410.98" stroke="#555" stroke-width="0.6"/>
<text x="130.4" y="412.74" text-anchor="end" font-size="6.5" class="b">Autophagy-animal</text>
<line x1="133.2" y1="417.21" x2="135" y2="417.21" stroke="#555" stroke-width="0.6"/>
<text x="130.4" y="418.96" text-anchor="end" font-size="6.5" class="b">Pyrimidine metabolism</text>
<line x1="133.2" y1="423.44" x2="135" y2="423.44" stroke="#555" stroke-width="0.6"/>
<text x="130.4" y="425.19" text-anchor="end" font-size="6.5" class="b">Phagosome</text>
<line x1="133.2" y1="429.66" x2="135" y2="429.66" stroke="#555" stroke-width="0.6"/>
<text x="130.4" y="431.42" text-anchor="end" font-size="6.5" class="b">Peroxisome</text>
<line x1="159.4" y1="433.4" x2="159.4" y2="434.9" stroke="#555" stroke-width="0.6"/>
<text transform="translate(159.4 438.4) scale(1.1 1)" text-anchor="middle" font-size="5.0" class="l">0.03</text>
<line x1="189" y1="433.4" x2="189" y2="434.9" stroke="#555" stroke-width="0.6"/>
<text transform="translate(189 438.4) scale(1.1 1)" text-anchor="middle" font-size="5.0" class="l">0.06</text>
<line x1="218.6" y1="433.4" x2="218.6" y2="434.9" stroke="#555" stroke-width="0.6"/>
<text transform="translate(218.6 438.4) scale(1.1 1)" text-anchor="middle" font-size="5.0" class="l">0.09</text>
<ellipse cx="238.7" cy="311.34" rx="0.9" ry="0.75" fill="#ffba00"/>
<ellipse cx="218.8" cy="317.56" rx="0.9" ry="0.75" fill="#ff8d00"/>
<ellipse cx="218.8" cy="323.79" rx="0.9" ry="0.75" fill="#ffba00"/>
<ellipse cx="215.1" cy="330.02" rx="2.75" ry="2.1" fill="#ff4500"/>
<ellipse cx="206.8" cy="336.25" rx="3.2" ry="2.4" fill="#ff0000"/>
<ellipse cx="173.6" cy="342.48" rx="0.9" ry="0.75" fill="#a24745"/>
<ellipse cx="160.5" cy="348.7" rx="3.2" ry="2.4" fill="#ffe000"/>
<ellipse cx="159" cy="354.93" rx="0.9" ry="0.75" fill="#5614a9"/>
<ellipse cx="156.8" cy="361.16" rx="3.2" ry="2.4" fill="#ffba00"/>
<ellipse cx="154.7" cy="367.39" rx="0.9" ry="0.75" fill="#5614a9"/>
<ellipse cx="151.6" cy="373.61" rx="0.9" ry="0.75" fill="#5614a9"/>
<ellipse cx="151" cy="379.84" rx="0.9" ry="0.75" fill="#5614a9"/>
<ellipse cx="150.4" cy="386.07" rx="0.9" ry="0.75" fill="#5614a9"/>
<ellipse cx="147.3" cy="392.3" rx="2.75" ry="2.1" fill="#5614a9"/>
<ellipse cx="146.4" cy="398.52" rx="0.9" ry="0.75" fill="#1c08e0"/>
<ellipse cx="145.4" cy="404.75" rx="0.9" ry="0.75" fill="#1c08e0"/>
<ellipse cx="143.9" cy="410.98" rx="0.9" ry="0.75" fill="#1c08e0"/>
<ellipse cx="143.3" cy="417.21" rx="0.9" ry="0.75" fill="#1c08e0"/>
<ellipse cx="142" cy="423.44" rx="0.9" ry="0.75" fill="#1c08e0"/>
<ellipse cx="139.6" cy="429.66" rx="0.9" ry="0.75" fill="#0302f7"/>
<text x="109.6" y="305" font-size="15" class="b" style="stroke-width:0.45px">E</text>
<text transform="translate(141.3 305.4) scale(1.04 1)" font-size="7.1" class="b">12-dpe vs Normal_up</text>
<rect x="250.2" y="341.2" width="6.2" height="26" fill="url(#cg)"/>
<text transform="translate(248 340.21) scale(1.04 1)" font-size="5.5" class="l">-log10(Pvalue)</text>
<text transform="translate(257.9 346.12) scale(1.04 1)" font-size="5.5" class="l">2.0</text>
<text transform="translate(257.9 352.42) scale(1.04 1)" font-size="5.5" class="l">1.5</text>
<text transform="translate(257.9 358.71) scale(1.04 1)" font-size="5.5" class="l">1.0</text>
<text transform="translate(257.9 366.51) scale(1.04 1)" font-size="5.5" class="l">0.5</text>
<text transform="translate(249.9 376.42) scale(1.04 1)" font-size="5.5" class="l">Number</text>
<ellipse cx="253.3" cy="380.4" rx="0.65" ry="0.55" fill="#000"/>
<text transform="translate(257 382.05) scale(1.04 1)" font-size="5.5" class="l">1.0</text>
<ellipse cx="253.3" cy="385.3" rx="1.7" ry="1.4" fill="#000"/>
<text transform="translate(257 386.95) scale(1.04 1)" font-size="5.5" class="l">1.5</text>
<ellipse cx="253.3" cy="391" rx="2.1" ry="1.95" fill="#000"/>
<text transform="translate(257 392.65) scale(1.04 1)" font-size="5.5" class="l">2.0</text>
<ellipse cx="253.3" cy="396.8" rx="2.25" ry="2.1" fill="#000"/>
<text transform="translate(257 398.45) scale(1.04 1)" font-size="5.5" class="l">2.5</text>
<ellipse cx="253.3" cy="401.9" rx="2.65" ry="2.25" fill="#000"/>
<text transform="translate(257 403.55) scale(1.04 1)" font-size="5.5" class="l">3.0</text>
<line x1="408.12" y1="307.4" x2="408.12" y2="433.4" stroke="#efefef" stroke-width="0.5"/>
<line x1="424.1" y1="307.4" x2="424.1" y2="433.4" stroke="#e2e2e2" stroke-width="0.7"/>
<line x1="440.08" y1="307.4" x2="440.08" y2="433.4" stroke="#efefef" stroke-width="0.5"/>
<line x1="456.05" y1="307.4" x2="456.05" y2="433.4" stroke="#e2e2e2" stroke-width="0.7"/>
<line x1="472.02" y1="307.4" x2="472.02" y2="433.4" stroke="#efefef" stroke-width="0.5"/>
<line x1="488" y1="307.4" x2="488" y2="433.4" stroke="#e2e2e2" stroke-width="0.7"/>
<line x1="395.5" y1="311.14" x2="504.2" y2="311.14" stroke="#e6e6e6" stroke-width="0.6"/>
<line x1="395.5" y1="317.38" x2="504.2" y2="317.38" stroke="#e6e6e6" stroke-width="0.6"/>
<line x1="395.5" y1="323.62" x2="504.2" y2="323.62" stroke="#e6e6e6" stroke-width="0.6"/>
<line x1="395.5" y1="329.86" x2="504.2" y2="329.86" stroke="#e6e6e6" stroke-width="0.6"/>
<line x1="395.5" y1="336.09" x2="504.2" y2="336.09" stroke="#e6e6e6" stroke-width="0.6"/>
<line x1="395.5" y1="342.33" x2="504.2" y2="342.33" stroke="#e6e6e6" stroke-width="0.6"/>
<line x1="395.5" y1="348.57" x2="504.2" y2="348.57" stroke="#e6e6e6" stroke-width="0.6"/>
<line x1="395.5" y1="354.81" x2="504.2" y2="354.81" stroke="#e6e6e6" stroke-width="0.6"/>
<line x1="395.5" y1="361.04" x2="504.2" y2="361.04" stroke="#e6e6e6" stroke-width="0.6"/>
<line x1="395.5" y1="367.28" x2="504.2" y2="367.28" stroke="#e6e6e6" stroke-width="0.6"/>
<line x1="395.5" y1="373.52" x2="504.2" y2="373.52" stroke="#e6e6e6" stroke-width="0.6"/>
<line x1="395.5" y1="379.76" x2="504.2" y2="379.76" stroke="#e6e6e6" stroke-width="0.6"/>
<line x1="395.5" y1="385.99" x2="504.2" y2="385.99" stroke="#e6e6e6" stroke-width="0.6"/>
<line x1="395.5" y1="392.23" x2="504.2" y2="392.23" stroke="#e6e6e6" stroke-width="0.6"/>
<line x1="395.5" y1="398.47" x2="504.2" y2="398.47" stroke="#e6e6e6" stroke-width="0.6"/>
<line x1="395.5" y1="404.71" x2="504.2" y2="404.71" stroke="#e6e6e6" stroke-width="0.6"/>
<line x1="395.5" y1="410.94" x2="504.2" y2="410.94" stroke="#e6e6e6" stroke-width="0.6"/>
<line x1="395.5" y1="417.18" x2="504.2" y2="417.18" stroke="#e6e6e6" stroke-width="0.6"/>
<line x1="395.5" y1="423.42" x2="504.2" y2="423.42" stroke="#e6e6e6" stroke-width="0.6"/>
<line x1="395.5" y1="429.66" x2="504.2" y2="429.66" stroke="#e6e6e6" stroke-width="0.6"/>
<rect x="395.5" y="307.4" width="108.7" height="126" fill="none" stroke="#a8a8a8" stroke-width="0.9"/>
<line x1="393.7" y1="311.14" x2="395.5" y2="311.14" stroke="#555" stroke-width="0.6"/>
<text x="393.8" y="312.9" text-anchor="end" font-size="6.5" class="b">Ubiquinone and other terpenoid-quinone biosynthesis</text>
<line x1="393.7" y1="317.38" x2="395.5" y2="317.38" stroke="#555" stroke-width="0.6"/>
<text x="393.8" y="319.14" text-anchor="end" font-size="6.5" class="b">Phenylalanine, tyrosine and tryptophan biosynthesis</text>
<line x1="393.7" y1="323.62" x2="395.5" y2="323.62" stroke="#555" stroke-width="0.6"/>
<text x="393.8" y="325.37" text-anchor="end" font-size="6.5" class="b">Glycosylphosphatidylinositol anchor biosynthesis</text>
<line x1="393.7" y1="329.86" x2="395.5" y2="329.86" stroke="#555" stroke-width="0.6"/>
<text x="393.8" y="331.61" text-anchor="end" font-size="6.5" class="b">Phenylalanine metabolism</text>
<line x1="393.7" y1="336.09" x2="395.5" y2="336.09" stroke="#555" stroke-width="0.6"/>
<text x="393.8" y="337.85" text-anchor="end" font-size="6.5" class="b">Taurine and hypotaurine metabolism</text>
<line x1="393.7" y1="342.33" x2="395.5" y2="342.33" stroke="#555" stroke-width="0.6"/>
<text x="393.8" y="344.09" text-anchor="end" font-size="6.5" class="b">Retinol metabolism</text>
<line x1="393.7" y1="348.57" x2="395.5" y2="348.57" stroke="#555" stroke-width="0.6"/>
<text x="393.8" y="350.32" text-anchor="end" font-size="6.5" class="b">Glutathione metabolism</text>
<line x1="393.7" y1="354.81" x2="395.5" y2="354.81" stroke="#555" stroke-width="0.6"/>
<text x="393.8" y="356.56" text-anchor="end" font-size="6.5" class="b">Tyrosine metabolism</text>
<line x1="393.7" y1="361.04" x2="395.5" y2="361.04" stroke="#555" stroke-width="0.6"/>
<text x="393.8" y="362.8" text-anchor="end" font-size="6.5" class="b">Metabolism of xenobiotics by cytochrome P450</text>
<line x1="393.7" y1="367.28" x2="395.5" y2="367.28" stroke="#555" stroke-width="0.6"/>
<text x="393.8" y="369.04" text-anchor="end" font-size="6.5" class="b">Lysine dagradation</text>
<line x1="393.7" y1="373.52" x2="395.5" y2="373.52" stroke="#555" stroke-width="0.6"/>
<text x="393.8" y="375.27" text-anchor="end" font-size="6.5" class="b">Starch and sucrose metabolism</text>
<line x1="393.7" y1="379.76" x2="395.5" y2="379.76" stroke="#555" stroke-width="0.6"/>
<text x="393.8" y="381.51" text-anchor="end" font-size="6.5" class="b">Drug metabolism-cytochrome P450</text>
<line x1="393.7" y1="385.99" x2="395.5" y2="385.99" stroke="#555" stroke-width="0.6"/>
<text x="393.8" y="387.75" text-anchor="end" font-size="6.5" class="b">Fatty acid degradation</text>
<line x1="393.7" y1="392.23" x2="395.5" y2="392.23" stroke="#555" stroke-width="0.6"/>
<text x="393.8" y="393.99" text-anchor="end" font-size="6.5" class="b">Phagosome</text>
<line x1="393.7" y1="398.47" x2="395.5" y2="398.47" stroke="#555" stroke-width="0.6"/>
<text x="393.8" y="400.22" text-anchor="end" font-size="6.5" class="b">Glycine, serine and threonine metabolism</text>
<line x1="393.7" y1="404.71" x2="395.5" y2="404.71" stroke="#555" stroke-width="0.6"/>
<text x="393.8" y="406.46" text-anchor="end" font-size="6.5" class="b">Glycolysis/Gluconeogenesis</text>
<line x1="393.7" y1="410.94" x2="395.5" y2="410.94" stroke="#555" stroke-width="0.6"/>
<text x="393.8" y="412.7" text-anchor="end" font-size="6.5" class="b">Peroxisome</text>
<line x1="393.7" y1="417.18" x2="395.5" y2="417.18" stroke="#555" stroke-width="0.6"/>
<text x="393.8" y="418.94" text-anchor="end" font-size="6.5" class="b">Pyruvate metabolism</text>
<line x1="393.7" y1="423.42" x2="395.5" y2="423.42" stroke="#555" stroke-width="0.6"/>
<text x="393.8" y="425.17" text-anchor="end" font-size="6.5" class="b">ECM-receptor interaction</text>
<line x1="393.7" y1="429.66" x2="395.5" y2="429.66" stroke="#555" stroke-width="0.6"/>
<text x="393.8" y="431.41" text-anchor="end" font-size="6.5" class="b">Metabolism pathways</text>
<line x1="424.1" y1="433.4" x2="424.1" y2="434.9" stroke="#555" stroke-width="0.6"/>
<text transform="translate(424.1 437.4) scale(1.1 1)" text-anchor="middle" font-size="5.0" class="l">0.1</text>
<line x1="456.05" y1="433.4" x2="456.05" y2="434.9" stroke="#555" stroke-width="0.6"/>
<text transform="translate(456.05 437.4) scale(1.1 1)" text-anchor="middle" font-size="5.0" class="l">0.2</text>
<line x1="488" y1="433.4" x2="488" y2="434.9" stroke="#555" stroke-width="0.6"/>
<text transform="translate(488 437.4) scale(1.1 1)" text-anchor="middle" font-size="5.0" class="l">0.3</text>
<ellipse cx="499" cy="311.14" rx="1.55" ry="1.25" fill="#ffe000"/>
<ellipse cx="456.4" cy="317.38" rx="0.9" ry="0.75" fill="#1c08e0"/>
<ellipse cx="450.4" cy="323.62" rx="1.55" ry="1.25" fill="#bb6722"/>
<ellipse cx="445.6" cy="329.86" rx="1.55" ry="1.25" fill="#a24745"/>
<ellipse cx="437.8" cy="336.09" rx="0.9" ry="0.75" fill="#1c08e0"/>
<ellipse cx="433.9" cy="342.33" rx="1.55" ry="1.25" fill="#ffba00"/>
<ellipse cx="433.9" cy="348.57" rx="2.1" ry="1.7" fill="#ff0000"/>
<ellipse cx="427.6" cy="354.81" rx="1.55" ry="1.25" fill="#5614a9"/>
<ellipse cx="426.1" cy="361.04" rx="1.55" ry="1.25" fill="#5614a9"/>
<ellipse cx="423.1" cy="367.28" rx="2.1" ry="1.7" fill="#ff8d00"/>
<ellipse cx="421.6" cy="373.52" rx="1.55" ry="1.25" fill="#5614a9"/>
<ellipse cx="421.3" cy="379.76" rx="1.55" ry="1.25" fill="#5614a9"/>
<ellipse cx="418.9" cy="385.99" rx="2.1" ry="1.7" fill="#ffba00"/>
<ellipse cx="414.4" cy="392.23" rx="1.55" ry="1.25" fill="#ff8d00"/>
<ellipse cx="413.5" cy="398.47" rx="1.55" ry="1.25" fill="#5614a9"/>
<ellipse cx="412.6" cy="404.71" rx="1.55" ry="1.25" fill="#5614a9"/>
<ellipse cx="410.5" cy="410.94" rx="1.55" ry="1.25" fill="#a24745"/>
<ellipse cx="408.1" cy="417.18" rx="1.55" ry="1.25" fill="#1c08e0"/>
<ellipse cx="407.5" cy="423.42" rx="1.55" ry="1.25" fill="#1c08e0"/>
<ellipse cx="400" cy="429.66" rx="3.2" ry="2.4" fill="#5614a9"/>
<text x="379.1" y="305.6" font-size="15" class="b" style="stroke-width:0.45px">F</text>
<text transform="translate(401.6 305.4) scale(1.04 1)" font-size="7.1" class="b">12-dpe vs Normal_down</text>
<rect x="511.3" y="375" width="6.9" height="26" fill="url(#cg)"/>
<text transform="translate(509.4 373.71) scale(1.04 1)" font-size="5.5" class="l">-log10(Pvalue)</text>
<text transform="translate(520.5 384.12) scale(1.04 1)" font-size="5.5" class="l">3</text>
<text transform="translate(520.5 392.62) scale(1.04 1)" font-size="5.5" class="l">2</text>
<text transform="translate(520.5 400.81) scale(1.04 1)" font-size="5.5" class="l">1</text>
<text transform="translate(512.4 342.51) scale(1.04 1)" font-size="5.5" class="l">Number</text>
<ellipse cx="515.1" cy="346.3" rx="1.95" ry="1.3" fill="#000"/>
<text transform="translate(519.1 347.95) scale(1.04 1)" font-size="5.5" class="l">5</text>
<ellipse cx="515.1" cy="351.3" rx="2.35" ry="1.4" fill="#000"/>
<text transform="translate(519.1 352.95) scale(1.04 1)" font-size="5.5" class="l">10</text>
<ellipse cx="515.1" cy="356.5" rx="2.65" ry="1.7" fill="#000"/>
<text transform="translate(519.1 358.15) scale(1.04 1)" font-size="5.5" class="l">15</text>
<ellipse cx="515.1" cy="362.1" rx="2.9" ry="2.1" fill="#000"/>
<text transform="translate(519.1 363.75) scale(1.04 1)" font-size="5.5" class="l">20</text>
<line x1="141.83" y1="446.6" x2="141.83" y2="572.3" stroke="#efefef" stroke-width="0.5"/>
<line x1="155.6" y1="446.6" x2="155.6" y2="572.3" stroke="#e2e2e2" stroke-width="0.7"/>
<line x1="169.37" y1="446.6" x2="169.37" y2="572.3" stroke="#efefef" stroke-width="0.5"/>
<line x1="183.13" y1="446.6" x2="183.13" y2="572.3" stroke="#e2e2e2" stroke-width="0.7"/>
<line x1="196.9" y1="446.6" x2="196.9" y2="572.3" stroke="#efefef" stroke-width="0.5"/>
<line x1="210.67" y1="446.6" x2="210.67" y2="572.3" stroke="#e2e2e2" stroke-width="0.7"/>
<line x1="224.43" y1="446.6" x2="224.43" y2="572.3" stroke="#efefef" stroke-width="0.5"/>
<line x1="238.2" y1="446.6" x2="238.2" y2="572.3" stroke="#e2e2e2" stroke-width="0.7"/>
<line x1="134.9" y1="450.33" x2="242.8" y2="450.33" stroke="#e6e6e6" stroke-width="0.6"/>
<line x1="134.9" y1="456.56" x2="242.8" y2="456.56" stroke="#e6e6e6" stroke-width="0.6"/>
<line x1="134.9" y1="462.78" x2="242.8" y2="462.78" stroke="#e6e6e6" stroke-width="0.6"/>
<line x1="134.9" y1="469" x2="242.8" y2="469" stroke="#e6e6e6" stroke-width="0.6"/>
<line x1="134.9" y1="475.22" x2="242.8" y2="475.22" stroke="#e6e6e6" stroke-width="0.6"/>
<line x1="134.9" y1="481.45" x2="242.8" y2="481.45" stroke="#e6e6e6" stroke-width="0.6"/>
<line x1="134.9" y1="487.67" x2="242.8" y2="487.67" stroke="#e6e6e6" stroke-width="0.6"/>
<line x1="134.9" y1="493.89" x2="242.8" y2="493.89" stroke="#e6e6e6" stroke-width="0.6"/>
<line x1="134.9" y1="500.12" x2="242.8" y2="500.12" stroke="#e6e6e6" stroke-width="0.6"/>
<line x1="134.9" y1="506.34" x2="242.8" y2="506.34" stroke="#e6e6e6" stroke-width="0.6"/>
<line x1="134.9" y1="512.56" x2="242.8" y2="512.56" stroke="#e6e6e6" stroke-width="0.6"/>
<line x1="134.9" y1="518.78" x2="242.8" y2="518.78" stroke="#e6e6e6" stroke-width="0.6"/>
<line x1="134.9" y1="525.01" x2="242.8" y2="525.01" stroke="#e6e6e6" stroke-width="0.6"/>
<line x1="134.9" y1="531.23" x2="242.8" y2="531.23" stroke="#e6e6e6" stroke-width="0.6"/>
<line x1="134.9" y1="537.45" x2="242.8" y2="537.45" stroke="#e6e6e6" stroke-width="0.6"/>
<line x1="134.9" y1="543.68" x2="242.8" y2="543.68" stroke="#e6e6e6" stroke-width="0.6"/>
<line x1="134.9" y1="549.9" x2="242.8" y2="549.9" stroke="#e6e6e6" stroke-width="0.6"/>
<line x1="134.9" y1="556.12" x2="242.8" y2="556.12" stroke="#e6e6e6" stroke-width="0.6"/>
<line x1="134.9" y1="562.34" x2="242.8" y2="562.34" stroke="#e6e6e6" stroke-width="0.6"/>
<line x1="134.9" y1="568.57" x2="242.8" y2="568.57" stroke="#e6e6e6" stroke-width="0.6"/>
<rect x="134.9" y="446.6" width="107.9" height="125.7" fill="none" stroke="#a8a8a8" stroke-width="0.9"/>
<line x1="133.1" y1="450.33" x2="134.9" y2="450.33" stroke="#555" stroke-width="0.6"/>
<text x="131" y="452.09" text-anchor="end" font-size="6.5" class="b">Valine, leucine and isoleucine biosynthesis</text>
<line x1="133.1" y1="456.56" x2="134.9" y2="456.56" stroke="#555" stroke-width="0.6"/>
<text x="131" y="458.31" text-anchor="end" font-size="6.5" class="b">Synthesis and degradation of ketone bodies</text>
<line x1="133.1" y1="462.78" x2="134.9" y2="462.78" stroke="#555" stroke-width="0.6"/>
<text x="131" y="464.53" text-anchor="end" font-size="6.5" class="b">Mismatch repair</text>
<line x1="133.1" y1="469" x2="134.9" y2="469" stroke="#555" stroke-width="0.6"/>
<text x="131" y="470.76" text-anchor="end" font-size="6.5" class="b">Cysteine and methionine metabolism</text>
<line x1="133.1" y1="475.22" x2="134.9" y2="475.22" stroke="#555" stroke-width="0.6"/>
<text x="131" y="476.98" text-anchor="end" font-size="6.5" class="b">Sphingolipid metabolism</text>
<line x1="133.1" y1="481.45" x2="134.9" y2="481.45" stroke="#555" stroke-width="0.6"/>
<text x="131" y="483.2" text-anchor="end" font-size="6.5" class="b">Pantothenate and CoA biosynthesis</text>
<line x1="133.1" y1="487.67" x2="134.9" y2="487.67" stroke="#555" stroke-width="0.6"/>
<text x="131" y="489.43" text-anchor="end" font-size="6.5" class="b">DNA replication</text>
<line x1="133.1" y1="493.89" x2="134.9" y2="493.89" stroke="#555" stroke-width="0.6"/>
<text x="131" y="495.65" text-anchor="end" font-size="6.5" class="b">2-Oxcarboxylic acid metabolism</text>
<line x1="133.1" y1="500.12" x2="134.9" y2="500.12" stroke="#555" stroke-width="0.6"/>
<text x="131" y="501.87" text-anchor="end" font-size="6.5" class="b">Nucleotide excision repair</text>
<line x1="133.1" y1="506.34" x2="134.9" y2="506.34" stroke="#555" stroke-width="0.6"/>
<text x="131" y="508.09" text-anchor="end" font-size="6.5" class="b">Other glycan degradation</text>
<line x1="133.1" y1="512.56" x2="134.9" y2="512.56" stroke="#555" stroke-width="0.6"/>
<text x="131" y="514.32" text-anchor="end" font-size="6.5" class="b">Aminoacyl-tRNA biosynthesis</text>
<line x1="133.1" y1="518.78" x2="134.9" y2="518.78" stroke="#555" stroke-width="0.6"/>
<text x="131" y="520.54" text-anchor="end" font-size="6.5" class="b">Base excision repair</text>
<line x1="133.1" y1="525.01" x2="134.9" y2="525.01" stroke="#555" stroke-width="0.6"/>
<text x="131" y="526.76" text-anchor="end" font-size="6.5" class="b">Pentose phosphate pathway</text>
<line x1="133.1" y1="531.23" x2="134.9" y2="531.23" stroke="#555" stroke-width="0.6"/>
<text x="131" y="532.98" text-anchor="end" font-size="6.5" class="b">Butanoate metabolism</text>
<line x1="133.1" y1="537.45" x2="134.9" y2="537.45" stroke="#555" stroke-width="0.6"/>
<text x="131" y="539.21" text-anchor="end" font-size="6.5" class="b">Ribosme biogenesis in eukaryotes</text>
<line x1="133.1" y1="543.68" x2="134.9" y2="543.68" stroke="#555" stroke-width="0.6"/>
<text x="131" y="545.43" text-anchor="end" font-size="6.5" class="b">Alanine, aspartate and glutamate metabolism</text>
<line x1="133.1" y1="549.9" x2="134.9" y2="549.9" stroke="#555" stroke-width="0.6"/>
<text x="131" y="551.65" text-anchor="end" font-size="6.5" class="b">Pyrimidine metabolism</text>
<line x1="133.1" y1="556.12" x2="134.9" y2="556.12" stroke="#555" stroke-width="0.6"/>
<text x="131" y="557.88" text-anchor="end" font-size="6.5" class="b">Biosynthesis of amino acids</text>
<line x1="133.1" y1="562.34" x2="134.9" y2="562.34" stroke="#555" stroke-width="0.6"/>
<text x="131" y="564.1" text-anchor="end" font-size="6.5" class="b">Lysosome</text>
<line x1="133.1" y1="568.57" x2="134.9" y2="568.57" stroke="#555" stroke-width="0.6"/>
<text x="131" y="570.32" text-anchor="end" font-size="6.5" class="b">Purine metabolism</text>
<line x1="155.6" y1="572.3" x2="155.6" y2="573.8" stroke="#555" stroke-width="0.6"/>
<text transform="translate(155.6 577.3) scale(1.1 1)" text-anchor="middle" font-size="5.0" class="l">0.05</text>
<line x1="183.13" y1="572.3" x2="183.13" y2="573.8" stroke="#555" stroke-width="0.6"/>
<text transform="translate(183.13 577.3) scale(1.1 1)" text-anchor="middle" font-size="5.0" class="l">0.10</text>
<line x1="210.67" y1="572.3" x2="210.67" y2="573.8" stroke="#555" stroke-width="0.6"/>
<text transform="translate(210.67 577.3) scale(1.1 1)" text-anchor="middle" font-size="5.0" class="l">0.15</text>
<line x1="238.2" y1="572.3" x2="238.2" y2="573.8" stroke="#555" stroke-width="0.6"/>
<text transform="translate(238.2 577.3) scale(1.1 1)" text-anchor="middle" font-size="5.0" class="l">0.20</text>
<ellipse cx="238.2" cy="450.33" rx="0.9" ry="0.75" fill="#a24745"/>
<ellipse cx="197.4" cy="456.56" rx="0.9" ry="0.75" fill="#7a2c81"/>
<ellipse cx="193.4" cy="462.78" rx="2.1" ry="1.7" fill="#ffe000"/>
<ellipse cx="186.6" cy="469" rx="2.75" ry="2.1" fill="#ff0000"/>
<ellipse cx="171.1" cy="475.22" rx="2.1" ry="1.7" fill="#bb6722"/>
<ellipse cx="171.1" cy="481.45" rx="0.9" ry="0.75" fill="#5614a9"/>
<ellipse cx="167.1" cy="487.67" rx="2.1" ry="1.7" fill="#d29507"/>
<ellipse cx="156.6" cy="493.89" rx="0.9" ry="0.75" fill="#1c08e0"/>
<ellipse cx="155.6" cy="500.12" rx="0.9" ry="0.75" fill="#1c08e0"/>
<ellipse cx="154.4" cy="506.34" rx="0.9" ry="0.75" fill="#1c08e0"/>
<ellipse cx="154.1" cy="512.56" rx="2.1" ry="1.7" fill="#7a2c81"/>
<ellipse cx="153.2" cy="518.78" rx="0.9" ry="0.75" fill="#1c08e0"/>
<ellipse cx="150.4" cy="525.01" rx="0.9" ry="0.75" fill="#1c08e0"/>
<ellipse cx="149.5" cy="531.23" rx="0.9" ry="0.75" fill="#1c08e0"/>
<ellipse cx="147.3" cy="537.45" rx="2.1" ry="1.7" fill="#5614a9"/>
<ellipse cx="146.4" cy="543.68" rx="0.9" ry="0.75" fill="#1c08e0"/>
<ellipse cx="145.7" cy="549.9" rx="2.1" ry="1.7" fill="#1c08e0"/>
<ellipse cx="144.2" cy="556.12" rx="2.1" ry="1.7" fill="#1c08e0"/>
<ellipse cx="141.1" cy="562.34" rx="2.1" ry="1.7" fill="#0302f7"/>
<ellipse cx="139.6" cy="568.57" rx="2.1" ry="1.7" fill="#0302f7"/>
<text x="110.7" y="446.3" font-size="15" class="b" style="stroke-width:0.45px">G</text>
<text transform="translate(140.9 444.5) scale(1.04 1)" font-size="7.1" class="b">20-dpe vs Normal_up</text>
<rect x="249.2" y="514" width="6.2" height="25.5" fill="url(#cg)"/>
<text transform="translate(246 512.82) scale(1.04 1)" font-size="5.5" class="l">-log10(Pvalue)</text>
<text transform="translate(256.9 517.12) scale(1.04 1)" font-size="5.5" class="l">3</text>
<text transform="translate(256.9 526.12) scale(1.04 1)" font-size="5.5" class="l">2</text>
<text transform="translate(256.9 536.32) scale(1.04 1)" font-size="5.5" class="l">1</text>
<text transform="translate(249.1 481.62) scale(1.04 1)" font-size="5.5" class="l">Number</text>
<ellipse cx="252.3" cy="485.7" rx="0.95" ry="0.55" fill="#000"/>
<text transform="translate(255.9 487.35) scale(1.04 1)" font-size="5.5" class="l">1</text>
<ellipse cx="252.3" cy="490.6" rx="1.85" ry="1.55" fill="#000"/>
<text transform="translate(255.9 492.25) scale(1.04 1)" font-size="5.5" class="l">2</text>
<ellipse cx="252.3" cy="495.9" rx="2.1" ry="1.85" fill="#000"/>
<text transform="translate(255.9 497.55) scale(1.04 1)" font-size="5.5" class="l">3</text>
<ellipse cx="252.3" cy="501.2" rx="2.55" ry="2.2" fill="#000"/>
<text transform="translate(255.9 502.85) scale(1.04 1)" font-size="5.5" class="l">4</text>
<line x1="403.49" y1="447.8" x2="403.49" y2="573.4" stroke="#efefef" stroke-width="0.5"/>
<line x1="414.1" y1="447.8" x2="414.1" y2="573.4" stroke="#e2e2e2" stroke-width="0.7"/>
<line x1="424.71" y1="447.8" x2="424.71" y2="573.4" stroke="#efefef" stroke-width="0.5"/>
<line x1="435.33" y1="447.8" x2="435.33" y2="573.4" stroke="#e2e2e2" stroke-width="0.7"/>
<line x1="445.94" y1="447.8" x2="445.94" y2="573.4" stroke="#efefef" stroke-width="0.5"/>
<line x1="456.55" y1="447.8" x2="456.55" y2="573.4" stroke="#e2e2e2" stroke-width="0.7"/>
<line x1="467.16" y1="447.8" x2="467.16" y2="573.4" stroke="#efefef" stroke-width="0.5"/>
<line x1="477.77" y1="447.8" x2="477.77" y2="573.4" stroke="#e2e2e2" stroke-width="0.7"/>
<line x1="488.39" y1="447.8" x2="488.39" y2="573.4" stroke="#efefef" stroke-width="0.5"/>
<line x1="499" y1="447.8" x2="499" y2="573.4" stroke="#e2e2e2" stroke-width="0.7"/>
<line x1="395.3" y1="451.53" x2="504.2" y2="451.53" stroke="#e6e6e6" stroke-width="0.6"/>
<line x1="395.3" y1="457.75" x2="504.2" y2="457.75" stroke="#e6e6e6" stroke-width="0.6"/>
<line x1="395.3" y1="463.97" x2="504.2" y2="463.97" stroke="#e6e6e6" stroke-width="0.6"/>
<line x1="395.3" y1="470.18" x2="504.2" y2="470.18" stroke="#e6e6e6" stroke-width="0.6"/>
<line x1="395.3" y1="476.4" x2="504.2" y2="476.4" stroke="#e6e6e6" stroke-width="0.6"/>
<line x1="395.3" y1="482.62" x2="504.2" y2="482.62" stroke="#e6e6e6" stroke-width="0.6"/>
<line x1="395.3" y1="488.84" x2="504.2" y2="488.84" stroke="#e6e6e6" stroke-width="0.6"/>
<line x1="395.3" y1="495.06" x2="504.2" y2="495.06" stroke="#e6e6e6" stroke-width="0.6"/>
<line x1="395.3" y1="501.27" x2="504.2" y2="501.27" stroke="#e6e6e6" stroke-width="0.6"/>
<line x1="395.3" y1="507.49" x2="504.2" y2="507.49" stroke="#e6e6e6" stroke-width="0.6"/>
<line x1="395.3" y1="513.71" x2="504.2" y2="513.71" stroke="#e6e6e6" stroke-width="0.6"/>
<line x1="395.3" y1="519.93" x2="504.2" y2="519.93" stroke="#e6e6e6" stroke-width="0.6"/>
<line x1="395.3" y1="526.14" x2="504.2" y2="526.14" stroke="#e6e6e6" stroke-width="0.6"/>
<line x1="395.3" y1="532.36" x2="504.2" y2="532.36" stroke="#e6e6e6" stroke-width="0.6"/>
<line x1="395.3" y1="538.58" x2="504.2" y2="538.58" stroke="#e6e6e6" stroke-width="0.6"/>
<line x1="395.3" y1="544.8" x2="504.2" y2="544.8" stroke="#e6e6e6" stroke-width="0.6"/>
<line x1="395.3" y1="551.02" x2="504.2" y2="551.02" stroke="#e6e6e6" stroke-width="0.6"/>
<line x1="395.3" y1="557.23" x2="504.2" y2="557.23" stroke="#e6e6e6" stroke-width="0.6"/>
<line x1="395.3" y1="563.45" x2="504.2" y2="563.45" stroke="#e6e6e6" stroke-width="0.6"/>
<line x1="395.3" y1="569.67" x2="504.2" y2="569.67" stroke="#e6e6e6" stroke-width="0.6"/>
<rect x="395.3" y="447.8" width="108.9" height="125.6" fill="none" stroke="#a8a8a8" stroke-width="0.9"/>
<line x1="393.5" y1="451.53" x2="395.3" y2="451.53" stroke="#555" stroke-width="0.6"/>
<text x="393.3" y="453.29" text-anchor="end" font-size="6.5" class="b">Ubiquinone and other terpenoid-quinone biosynthesis</text>
<line x1="393.5" y1="457.75" x2="395.3" y2="457.75" stroke="#555" stroke-width="0.6"/>
<text x="393.3" y="459.5" text-anchor="end" font-size="6.5" class="b">Taurine and typotaurine metabolism</text>
<line x1="393.5" y1="463.97" x2="395.3" y2="463.97" stroke="#555" stroke-width="0.6"/>
<text x="393.3" y="465.72" text-anchor="end" font-size="6.5" class="b">Phenylalanine metabolism</text>
<line x1="393.5" y1="470.18" x2="395.3" y2="470.18" stroke="#555" stroke-width="0.6"/>
<text x="393.3" y="471.94" text-anchor="end" font-size="6.5" class="b">Glycosylphosphatidylinositol-anchor biosynthesis</text>
<line x1="393.5" y1="476.4" x2="395.3" y2="476.4" stroke="#555" stroke-width="0.6"/>
<text x="393.3" y="478.16" text-anchor="end" font-size="6.5" class="b">Tyrosine metabolism</text>
<line x1="393.5" y1="482.62" x2="395.3" y2="482.62" stroke="#555" stroke-width="0.6"/>
<text x="393.3" y="484.37" text-anchor="end" font-size="6.5" class="b">Glutathione metabolism</text>
<line x1="393.5" y1="488.84" x2="395.3" y2="488.84" stroke="#555" stroke-width="0.6"/>
<text x="393.3" y="490.59" text-anchor="end" font-size="6.5" class="b">Retinol metabolism</text>
<line x1="393.5" y1="495.06" x2="395.3" y2="495.06" stroke="#555" stroke-width="0.6"/>
<text x="393.3" y="496.81" text-anchor="end" font-size="6.5" class="b">Metabolism of xenobiotics by cytochrome P450</text>
<line x1="393.5" y1="501.27" x2="395.3" y2="501.27" stroke="#555" stroke-width="0.6"/>
<text x="393.3" y="503.03" text-anchor="end" font-size="6.5" class="b">Retinol metabolism and aldarate metabolism</text>
<line x1="393.5" y1="507.49" x2="395.3" y2="507.49" stroke="#555" stroke-width="0.6"/>
<text x="393.3" y="509.25" text-anchor="end" font-size="6.5" class="b">Lysine degradation</text>
<line x1="393.5" y1="513.71" x2="395.3" y2="513.71" stroke="#555" stroke-width="0.6"/>
<text x="393.3" y="515.46" text-anchor="end" font-size="6.5" class="b">Arachidonic acid metabolism</text>
<line x1="393.5" y1="519.93" x2="395.3" y2="519.93" stroke="#555" stroke-width="0.6"/>
<text x="393.3" y="521.68" text-anchor="end" font-size="6.5" class="b">Starch and sucrose metabolism</text>
<line x1="393.5" y1="526.14" x2="395.3" y2="526.14" stroke="#555" stroke-width="0.6"/>
<text x="393.3" y="527.9" text-anchor="end" font-size="6.5" class="b">Other glycan degradation</text>
<line x1="393.5" y1="532.36" x2="395.3" y2="532.36" stroke="#555" stroke-width="0.6"/>
<text x="393.3" y="534.12" text-anchor="end" font-size="6.5" class="b">Drug metabolism-cytochrome P450</text>
<line x1="393.5" y1="538.58" x2="395.3" y2="538.58" stroke="#555" stroke-width="0.6"/>
<text x="393.3" y="540.34" text-anchor="end" font-size="6.5" class="b">Fatty acid degradation</text>
<line x1="393.5" y1="544.8" x2="395.3" y2="544.8" stroke="#555" stroke-width="0.6"/>
<text x="393.3" y="546.55" text-anchor="end" font-size="6.5" class="b">ECM-receptor interaction</text>
<line x1="393.5" y1="551.02" x2="395.3" y2="551.02" stroke="#555" stroke-width="0.6"/>
<text x="393.3" y="552.77" text-anchor="end" font-size="6.5" class="b">Glycine, serine and threonine metabolism</text>
<line x1="393.5" y1="557.23" x2="395.3" y2="557.23" stroke="#555" stroke-width="0.6"/>
<text x="393.3" y="558.99" text-anchor="end" font-size="6.5" class="b">Peroxisome</text>
<line x1="393.5" y1="563.45" x2="395.3" y2="563.45" stroke="#555" stroke-width="0.6"/>
<text x="393.3" y="565.21" text-anchor="end" font-size="6.5" class="b">Phagosome</text>
<line x1="393.5" y1="569.67" x2="395.3" y2="569.67" stroke="#555" stroke-width="0.6"/>
<text x="393.3" y="571.42" text-anchor="end" font-size="6.5" class="b">Metabolic pathways</text>
<line x1="414.1" y1="573.4" x2="414.1" y2="574.9" stroke="#555" stroke-width="0.6"/>
<text transform="translate(414.1 577.4) scale(1.1 1)" text-anchor="middle" font-size="5.0" class="l">0.1</text>
<line x1="435.33" y1="573.4" x2="435.33" y2="574.9" stroke="#555" stroke-width="0.6"/>
<text transform="translate(435.33 577.4) scale(1.1 1)" text-anchor="middle" font-size="5.0" class="l">0.2</text>
<line x1="456.55" y1="573.4" x2="456.55" y2="574.9" stroke="#555" stroke-width="0.6"/>
<text transform="translate(456.55 577.4) scale(1.1 1)" text-anchor="middle" font-size="5.0" class="l">0.3</text>
<line x1="477.77" y1="573.4" x2="477.77" y2="574.9" stroke="#555" stroke-width="0.6"/>
<text transform="translate(477.77 577.4) scale(1.1 1)" text-anchor="middle" font-size="5.0" class="l">0.4</text>
<line x1="499" y1="573.4" x2="499" y2="574.9" stroke="#555" stroke-width="0.6"/>
<text transform="translate(499 577.4) scale(1.1 1)" text-anchor="middle" font-size="5.0" class="l">0.5</text>
<ellipse cx="498.4" cy="451.53" rx="1.55" ry="1.25" fill="#ff4500"/>
<ellipse cx="453.4" cy="457.75" rx="0.9" ry="0.75" fill="#a24745"/>
<ellipse cx="445.9" cy="463.97" rx="1.55" ry="1.25" fill="#ffe000"/>
<ellipse cx="431.5" cy="470.18" rx="0.9" ry="0.75" fill="#5614a9"/>
<ellipse cx="428.5" cy="476.4" rx="1.55" ry="1.25" fill="#bb6722"/>
<ellipse cx="424.9" cy="482.62" rx="2.1" ry="1.7" fill="#ff0000"/>
<ellipse cx="420.4" cy="488.84" rx="1.55" ry="1.25" fill="#a24745"/>
<ellipse cx="415" cy="495.06" rx="0.9" ry="0.75" fill="#1c08e0"/>
<ellipse cx="414.1" cy="501.27" rx="0.9" ry="0.75" fill="#1c08e0"/>
<ellipse cx="412.9" cy="507.49" rx="2.1" ry="1.7" fill="#d29507"/>
<ellipse cx="412.9" cy="513.71" rx="0.9" ry="0.75" fill="#1c08e0"/>
<ellipse cx="412.6" cy="519.93" rx="0.9" ry="0.75" fill="#1c08e0"/>
<ellipse cx="412" cy="526.14" rx="0.9" ry="0.75" fill="#1c08e0"/>
<ellipse cx="412" cy="532.36" rx="0.9" ry="0.75" fill="#1c08e0"/>
<ellipse cx="410.5" cy="538.58" rx="2.1" ry="1.7" fill="#a24745"/>
<ellipse cx="408.1" cy="544.8" rx="1.55" ry="1.25" fill="#0302f7"/>
<ellipse cx="406.9" cy="551.02" rx="1.55" ry="1.25" fill="#0302f7"/>
<ellipse cx="405.1" cy="557.23" rx="2.1" ry="1.7" fill="#0302f7"/>
<ellipse cx="404.5" cy="563.45" rx="2.1" ry="1.7" fill="#0302f7"/>
<ellipse cx="398.5" cy="569.67" rx="3.2" ry="2.4" fill="#0302f7"/>
<text x="378.7" y="447.8" font-size="15" class="b" style="stroke-width:0.45px">H</text>
<text transform="translate(401.3 445.9) scale(1.04 1)" font-size="7.1" class="b">20-dpe vs Normal_down</text>
<rect x="511.1" y="515.5" width="7" height="25.6" fill="url(#cg)"/>
<text transform="translate(509.3 513.82) scale(1.04 1)" font-size="5.5" class="l">-log10(Pvalue)</text>
<text transform="translate(520.4 521.42) scale(1.04 1)" font-size="5.5" class="l">4</text>
<text transform="translate(520.4 528.92) scale(1.04 1)" font-size="5.5" class="l">3</text>
<text transform="translate(520.4 537.12) scale(1.04 1)" font-size="5.5" class="l">2</text>
<text transform="translate(512.5 483.31) scale(1.04 1)" font-size="5.5" class="l">Number</text>
<ellipse cx="514.8" cy="486.3" rx="1.7" ry="1" fill="#000"/>
<text transform="translate(518.6 487.95) scale(1.04 1)" font-size="5.5" class="l">5</text>
<ellipse cx="514.8" cy="491.6" rx="2.25" ry="1.3" fill="#000"/>
<text transform="translate(518.6 493.25) scale(1.04 1)" font-size="5.5" class="l">10</text>
<ellipse cx="514.8" cy="497.1" rx="2.5" ry="1.55" fill="#000"/>
<text transform="translate(518.6 498.75) scale(1.04 1)" font-size="5.5" class="l">15</text>
<ellipse cx="514.8" cy="502.1" rx="2.8" ry="1.8" fill="#000"/>
<text transform="translate(518.6 503.75) scale(1.04 1)" font-size="5.5" class="l">20</text>
<line x1="138.22" y1="586.5" x2="138.22" y2="712.1" stroke="#efefef" stroke-width="0.5"/>
<line x1="151.9" y1="586.5" x2="151.9" y2="712.1" stroke="#e2e2e2" stroke-width="0.7"/>
<line x1="165.58" y1="586.5" x2="165.58" y2="712.1" stroke="#efefef" stroke-width="0.5"/>
<line x1="179.27" y1="586.5" x2="179.27" y2="712.1" stroke="#e2e2e2" stroke-width="0.7"/>
<line x1="192.95" y1="586.5" x2="192.95" y2="712.1" stroke="#efefef" stroke-width="0.5"/>
<line x1="206.63" y1="586.5" x2="206.63" y2="712.1" stroke="#e2e2e2" stroke-width="0.7"/>
<line x1="220.32" y1="586.5" x2="220.32" y2="712.1" stroke="#efefef" stroke-width="0.5"/>
<line x1="234" y1="586.5" x2="234" y2="712.1" stroke="#e2e2e2" stroke-width="0.7"/>
<line x1="134.5" y1="590.53" x2="242.8" y2="590.53" stroke="#e6e6e6" stroke-width="0.6"/>
<line x1="134.5" y1="596.75" x2="242.8" y2="596.75" stroke="#e6e6e6" stroke-width="0.6"/>
<line x1="134.5" y1="602.97" x2="242.8" y2="602.97" stroke="#e6e6e6" stroke-width="0.6"/>
<line x1="134.5" y1="609.18" x2="242.8" y2="609.18" stroke="#e6e6e6" stroke-width="0.6"/>
<line x1="134.5" y1="615.4" x2="242.8" y2="615.4" stroke="#e6e6e6" stroke-width="0.6"/>
<line x1="134.5" y1="621.62" x2="242.8" y2="621.62" stroke="#e6e6e6" stroke-width="0.6"/>
<line x1="134.5" y1="627.84" x2="242.8" y2="627.84" stroke="#e6e6e6" stroke-width="0.6"/>
<line x1="134.5" y1="634.06" x2="242.8" y2="634.06" stroke="#e6e6e6" stroke-width="0.6"/>
<line x1="134.5" y1="640.27" x2="242.8" y2="640.27" stroke="#e6e6e6" stroke-width="0.6"/>
<line x1="134.5" y1="646.49" x2="242.8" y2="646.49" stroke="#e6e6e6" stroke-width="0.6"/>
<line x1="134.5" y1="652.71" x2="242.8" y2="652.71" stroke="#e6e6e6" stroke-width="0.6"/>
<line x1="134.5" y1="658.93" x2="242.8" y2="658.93" stroke="#e6e6e6" stroke-width="0.6"/>
<line x1="134.5" y1="665.14" x2="242.8" y2="665.14" stroke="#e6e6e6" stroke-width="0.6"/>
<line x1="134.5" y1="671.36" x2="242.8" y2="671.36" stroke="#e6e6e6" stroke-width="0.6"/>
<line x1="134.5" y1="677.58" x2="242.8" y2="677.58" stroke="#e6e6e6" stroke-width="0.6"/>
<line x1="134.5" y1="683.8" x2="242.8" y2="683.8" stroke="#e6e6e6" stroke-width="0.6"/>
<line x1="134.5" y1="690.02" x2="242.8" y2="690.02" stroke="#e6e6e6" stroke-width="0.6"/>
<line x1="134.5" y1="696.23" x2="242.8" y2="696.23" stroke="#e6e6e6" stroke-width="0.6"/>
<line x1="134.5" y1="702.45" x2="242.8" y2="702.45" stroke="#e6e6e6" stroke-width="0.6"/>
<line x1="134.5" y1="708.67" x2="242.8" y2="708.67" stroke="#e6e6e6" stroke-width="0.6"/>
<rect x="134.5" y="586.5" width="108.3" height="125.6" fill="none" stroke="#a8a8a8" stroke-width="0.9"/>
<line x1="132.7" y1="590.53" x2="134.5" y2="590.53" stroke="#555" stroke-width="0.6"/>
<text x="130.8" y="592.29" text-anchor="end" font-size="6.5" class="b">DNA replication</text>
<line x1="132.7" y1="596.75" x2="134.5" y2="596.75" stroke="#555" stroke-width="0.6"/>
<text x="130.8" y="598.5" text-anchor="end" font-size="6.5" class="b">Valine, leucine and isoleucine biosynthesis</text>
<line x1="132.7" y1="602.97" x2="134.5" y2="602.97" stroke="#555" stroke-width="0.6"/>
<text x="130.8" y="604.72" text-anchor="end" font-size="6.5" class="b">Glycosphingolipid biosynthesis</text>
<line x1="132.7" y1="609.18" x2="134.5" y2="609.18" stroke="#555" stroke-width="0.6"/>
<text x="130.8" y="610.94" text-anchor="end" font-size="6.5" class="b">Nucleotide excision repair</text>
<line x1="132.7" y1="615.4" x2="134.5" y2="615.4" stroke="#555" stroke-width="0.6"/>
<text x="130.8" y="617.16" text-anchor="end" font-size="6.5" class="b">Mismatch repair</text>
<line x1="132.7" y1="621.62" x2="134.5" y2="621.62" stroke="#555" stroke-width="0.6"/>
<text x="130.8" y="623.37" text-anchor="end" font-size="6.5" class="b">Cysteine and methionine metabolism</text>
<line x1="132.7" y1="627.84" x2="134.5" y2="627.84" stroke="#555" stroke-width="0.6"/>
<text x="130.8" y="629.59" text-anchor="end" font-size="6.5" class="b">Base excision repair</text>
<line x1="132.7" y1="634.06" x2="134.5" y2="634.06" stroke="#555" stroke-width="0.6"/>
<text x="130.8" y="635.81" text-anchor="end" font-size="6.5" class="b">Pantothenate and CoA biosynthesis</text>
<line x1="132.7" y1="640.27" x2="134.5" y2="640.27" stroke="#555" stroke-width="0.6"/>
<text x="130.8" y="642.03" text-anchor="end" font-size="6.5" class="b">Steroid biosynthesis</text>
<line x1="132.7" y1="646.49" x2="134.5" y2="646.49" stroke="#555" stroke-width="0.6"/>
<text x="130.8" y="648.25" text-anchor="end" font-size="6.5" class="b">Biosynthesis of unsaturated fatty acids</text>
<line x1="132.7" y1="652.71" x2="134.5" y2="652.71" stroke="#555" stroke-width="0.6"/>
<text x="130.8" y="654.46" text-anchor="end" font-size="6.5" class="b">Basal transcription factors</text>
<line x1="132.7" y1="658.93" x2="134.5" y2="658.93" stroke="#555" stroke-width="0.6"/>
<text x="130.8" y="660.68" text-anchor="end" font-size="6.5" class="b">Alanine, aspartate and glutamate metabolism</text>
<line x1="132.7" y1="665.14" x2="134.5" y2="665.14" stroke="#555" stroke-width="0.6"/>
<text x="130.8" y="666.9" text-anchor="end" font-size="6.5" class="b">Pyrimidine metabolism</text>
<line x1="132.7" y1="671.36" x2="134.5" y2="671.36" stroke="#555" stroke-width="0.6"/>
<text x="130.8" y="673.12" text-anchor="end" font-size="6.5" class="b">2-Oxocarboxylic acid metabolism</text>
<line x1="132.7" y1="677.58" x2="134.5" y2="677.58" stroke="#555" stroke-width="0.6"/>
<text x="130.8" y="679.34" text-anchor="end" font-size="6.5" class="b">Retinol metabolism</text>
<line x1="132.7" y1="683.8" x2="134.5" y2="683.8" stroke="#555" stroke-width="0.6"/>
<text x="130.8" y="685.55" text-anchor="end" font-size="6.5" class="b">Fatty acid metabolism</text>
<line x1="132.7" y1="690.02" x2="134.5" y2="690.02" stroke="#555" stroke-width="0.6"/>
<text x="130.8" y="691.77" text-anchor="end" font-size="6.5" class="b">mRNA surveillance pathway</text>
<line x1="132.7" y1="696.23" x2="134.5" y2="696.23" stroke="#555" stroke-width="0.6"/>
<text x="130.8" y="697.99" text-anchor="end" font-size="6.5" class="b">Ribosome biogenesis in eukaryotes</text>
<line x1="132.7" y1="702.45" x2="134.5" y2="702.45" stroke="#555" stroke-width="0.6"/>
<text x="130.8" y="704.21" text-anchor="end" font-size="6.5" class="b">Ribosome</text>
<line x1="132.7" y1="708.67" x2="134.5" y2="708.67" stroke="#555" stroke-width="0.6"/>
<text x="130.8" y="710.42" text-anchor="end" font-size="6.5" class="b">Purine metabolism</text>
<line x1="151.9" y1="712.1" x2="151.9" y2="713.6" stroke="#555" stroke-width="0.6"/>
<text transform="translate(151.9 716.6) scale(1.1 1)" text-anchor="middle" font-size="5.0" class="l">0.1</text>
<line x1="179.27" y1="712.1" x2="179.27" y2="713.6" stroke="#555" stroke-width="0.6"/>
<text transform="translate(179.27 716.6) scale(1.1 1)" text-anchor="middle" font-size="5.0" class="l">0.2</text>
<line x1="206.63" y1="712.1" x2="206.63" y2="713.6" stroke="#555" stroke-width="0.6"/>
<text transform="translate(206.63 716.6) scale(1.1 1)" text-anchor="middle" font-size="5.0" class="l">0.3</text>
<line x1="234" y1="712.1" x2="234" y2="713.6" stroke="#555" stroke-width="0.6"/>
<text transform="translate(234 716.6) scale(1.1 1)" text-anchor="middle" font-size="5.0" class="l">0.4</text>
<ellipse cx="238.2" cy="590.53" rx="3.6" ry="2.5" fill="#ff0000"/>
<ellipse cx="233.8" cy="596.75" rx="1.55" ry="1.25" fill="#5614a9"/>
<ellipse cx="215.3" cy="602.97" rx="0.9" ry="0.75" fill="#1c08e0"/>
<ellipse cx="189.6" cy="609.18" rx="2.1" ry="1.7" fill="#a24745"/>
<ellipse cx="188.4" cy="615.4" rx="2.1" ry="1.7" fill="#7a2c81"/>
<ellipse cx="174.2" cy="621.62" rx="2.75" ry="2.1" fill="#a24745"/>
<ellipse cx="171.4" cy="627.84" rx="2.1" ry="1.7" fill="#5614a9"/>
<ellipse cx="165.8" cy="634.06" rx="1.55" ry="1.25" fill="#0302f7"/>
<ellipse cx="162.8" cy="640.27" rx="0.9" ry="0.75" fill="#0302f7"/>
<ellipse cx="162.8" cy="646.49" rx="1.55" ry="1.25" fill="#0302f7"/>
<ellipse cx="162.8" cy="652.71" rx="1.55" ry="1.25" fill="#0302f7"/>
<ellipse cx="157.8" cy="658.93" rx="2.1" ry="1.7" fill="#5614a9"/>
<ellipse cx="156.3" cy="665.14" rx="2.75" ry="2.1" fill="#7a2c81"/>
<ellipse cx="151" cy="671.36" rx="1.55" ry="1.25" fill="#0302f7"/>
<ellipse cx="147.3" cy="677.58" rx="1.55" ry="1.25" fill="#0302f7"/>
<ellipse cx="144.8" cy="683.8" rx="2.1" ry="1.7" fill="#0302f7"/>
<ellipse cx="141.7" cy="690.02" rx="2.1" ry="1.7" fill="#0302f7"/>
<ellipse cx="141.7" cy="696.23" rx="2.1" ry="1.7" fill="#0302f7"/>
<ellipse cx="141.1" cy="702.45" rx="2.75" ry="2.1" fill="#0302f7"/>
<ellipse cx="139.4" cy="708.67" rx="2.75" ry="2.1" fill="#0302f7"/>
<text x="111.6" y="585" font-size="15" class="b" style="stroke-width:0.45px">I</text>
<text transform="translate(139.3 583.9) scale(1.04 1)" font-size="7.1" class="b">28-dpe vs Normal_up</text>
<rect x="250.6" y="623" width="7.6" height="25.9" fill="url(#cg)"/>
<text transform="translate(250.6 622.32) scale(1.04 1)" font-size="5.5" class="l">-log10(Pvalue)</text>
<text transform="translate(259.7 630.62) scale(1.04 1)" font-size="5.5" class="l">7.5</text>
<text transform="translate(259.7 638.82) scale(1.04 1)" font-size="5.5" class="l">5.0</text>
<text transform="translate(259.7 646.22) scale(1.04 1)" font-size="5.5" class="l">2.5</text>
<text transform="translate(250.2 658.62) scale(1.04 1)" font-size="5.5" class="l">Number</text>
<ellipse cx="254.2" cy="661.6" rx="2" ry="1.2" fill="#000"/>
<text transform="translate(258.6 663.25) scale(1.04 1)" font-size="5.5" class="l">3</text>
<ellipse cx="254.2" cy="667.2" rx="2.55" ry="1.55" fill="#000"/>
<text transform="translate(258.6 668.85) scale(1.04 1)" font-size="5.5" class="l">6</text>
<ellipse cx="254.2" cy="672.5" rx="2.8" ry="1.75" fill="#000"/>
<text transform="translate(258.6 674.15) scale(1.04 1)" font-size="5.5" class="l">9</text>
<ellipse cx="254.2" cy="677.8" rx="3.25" ry="1.85" fill="#000"/>
<text transform="translate(258.6 679.45) scale(1.04 1)" font-size="5.5" class="l">12</text>
<line x1="405.4" y1="587.2" x2="405.4" y2="712.5" stroke="#efefef" stroke-width="0.5"/>
<line x1="420.4" y1="587.2" x2="420.4" y2="712.5" stroke="#e2e2e2" stroke-width="0.7"/>
<line x1="435.4" y1="587.2" x2="435.4" y2="712.5" stroke="#efefef" stroke-width="0.5"/>
<line x1="450.4" y1="587.2" x2="450.4" y2="712.5" stroke="#e2e2e2" stroke-width="0.7"/>
<line x1="465.4" y1="587.2" x2="465.4" y2="712.5" stroke="#efefef" stroke-width="0.5"/>
<line x1="480.4" y1="587.2" x2="480.4" y2="712.5" stroke="#e2e2e2" stroke-width="0.7"/>
<line x1="495.4" y1="587.2" x2="495.4" y2="712.5" stroke="#efefef" stroke-width="0.5"/>
<line x1="395.5" y1="590.92" x2="504.5" y2="590.92" stroke="#e6e6e6" stroke-width="0.6"/>
<line x1="395.5" y1="597.12" x2="504.5" y2="597.12" stroke="#e6e6e6" stroke-width="0.6"/>
<line x1="395.5" y1="603.33" x2="504.5" y2="603.33" stroke="#e6e6e6" stroke-width="0.6"/>
<line x1="395.5" y1="609.53" x2="504.5" y2="609.53" stroke="#e6e6e6" stroke-width="0.6"/>
<line x1="395.5" y1="615.73" x2="504.5" y2="615.73" stroke="#e6e6e6" stroke-width="0.6"/>
<line x1="395.5" y1="621.94" x2="504.5" y2="621.94" stroke="#e6e6e6" stroke-width="0.6"/>
<line x1="395.5" y1="628.14" x2="504.5" y2="628.14" stroke="#e6e6e6" stroke-width="0.6"/>
<line x1="395.5" y1="634.34" x2="504.5" y2="634.34" stroke="#e6e6e6" stroke-width="0.6"/>
<line x1="395.5" y1="640.55" x2="504.5" y2="640.55" stroke="#e6e6e6" stroke-width="0.6"/>
<line x1="395.5" y1="646.75" x2="504.5" y2="646.75" stroke="#e6e6e6" stroke-width="0.6"/>
<line x1="395.5" y1="652.95" x2="504.5" y2="652.95" stroke="#e6e6e6" stroke-width="0.6"/>
<line x1="395.5" y1="659.15" x2="504.5" y2="659.15" stroke="#e6e6e6" stroke-width="0.6"/>
<line x1="395.5" y1="665.36" x2="504.5" y2="665.36" stroke="#e6e6e6" stroke-width="0.6"/>
<line x1="395.5" y1="671.56" x2="504.5" y2="671.56" stroke="#e6e6e6" stroke-width="0.6"/>
<line x1="395.5" y1="677.76" x2="504.5" y2="677.76" stroke="#e6e6e6" stroke-width="0.6"/>
<line x1="395.5" y1="683.97" x2="504.5" y2="683.97" stroke="#e6e6e6" stroke-width="0.6"/>
<line x1="395.5" y1="690.17" x2="504.5" y2="690.17" stroke="#e6e6e6" stroke-width="0.6"/>
<line x1="395.5" y1="696.37" x2="504.5" y2="696.37" stroke="#e6e6e6" stroke-width="0.6"/>
<line x1="395.5" y1="702.58" x2="504.5" y2="702.58" stroke="#e6e6e6" stroke-width="0.6"/>
<line x1="395.5" y1="708.78" x2="504.5" y2="708.78" stroke="#e6e6e6" stroke-width="0.6"/>
<rect x="395.5" y="587.2" width="109" height="125.3" fill="none" stroke="#a8a8a8" stroke-width="0.9"/>
<line x1="393.7" y1="590.92" x2="395.5" y2="590.92" stroke="#555" stroke-width="0.6"/>
<text x="393.6" y="592.68" text-anchor="end" font-size="6.5" class="b">Ubiquinone and other terpenoid quinone biosynthesis</text>
<line x1="393.7" y1="597.12" x2="395.5" y2="597.12" stroke="#555" stroke-width="0.6"/>
<text x="393.6" y="598.88" text-anchor="end" font-size="6.5" class="b">Phenylalanine metabolism</text>
<line x1="393.7" y1="603.33" x2="395.5" y2="603.33" stroke="#555" stroke-width="0.6"/>
<text x="393.6" y="605.08" text-anchor="end" font-size="6.5" class="b">Metabolism of xenobiotics by cytochrome P450</text>
<line x1="393.7" y1="609.53" x2="395.5" y2="609.53" stroke="#555" stroke-width="0.6"/>
<text x="393.6" y="611.29" text-anchor="end" font-size="6.5" class="b">ECM-receptor interaction</text>
<line x1="393.7" y1="615.73" x2="395.5" y2="615.73" stroke="#555" stroke-width="0.6"/>
<text x="393.6" y="617.49" text-anchor="end" font-size="6.5" class="b">Drug metabolism-cytochrome P450</text>
<line x1="393.7" y1="621.94" x2="395.5" y2="621.94" stroke="#555" stroke-width="0.6"/>
<text x="393.6" y="623.69" text-anchor="end" font-size="6.5" class="b">Retinol metabolism</text>
<line x1="393.7" y1="628.14" x2="395.5" y2="628.14" stroke="#555" stroke-width="0.6"/>
<text x="393.6" y="629.89" text-anchor="end" font-size="6.5" class="b">Tyrosine metabolism</text>
<line x1="393.7" y1="634.34" x2="395.5" y2="634.34" stroke="#555" stroke-width="0.6"/>
<text x="393.6" y="636.1" text-anchor="end" font-size="6.5" class="b">Glycine, serine and threonine metabolism</text>
<line x1="393.7" y1="640.55" x2="395.5" y2="640.55" stroke="#555" stroke-width="0.6"/>
<text x="393.6" y="642.3" text-anchor="end" font-size="6.5" class="b">Thiamine metabolism</text>
<line x1="393.7" y1="646.75" x2="395.5" y2="646.75" stroke="#555" stroke-width="0.6"/>
<text x="393.6" y="648.5" text-anchor="end" font-size="6.5" class="b">Other glycan degradation</text>
<line x1="393.7" y1="652.95" x2="395.5" y2="652.95" stroke="#555" stroke-width="0.6"/>
<text x="393.6" y="654.71" text-anchor="end" font-size="6.5" class="b">Histidine metabolism</text>
<line x1="393.7" y1="659.15" x2="395.5" y2="659.15" stroke="#555" stroke-width="0.6"/>
<text x="393.6" y="660.91" text-anchor="end" font-size="6.5" class="b">Phagosome</text>
<line x1="393.7" y1="665.36" x2="395.5" y2="665.36" stroke="#555" stroke-width="0.6"/>
<text x="393.6" y="667.11" text-anchor="end" font-size="6.5" class="b">Trytophan metabolism</text>
<line x1="393.7" y1="671.56" x2="395.5" y2="671.56" stroke="#555" stroke-width="0.6"/>
<text x="393.6" y="673.32" text-anchor="end" font-size="6.5" class="b">Lysine degradation</text>
<line x1="393.7" y1="677.76" x2="395.5" y2="677.76" stroke="#555" stroke-width="0.6"/>
<text x="393.6" y="679.52" text-anchor="end" font-size="6.5" class="b">Arginine and proline metabolism</text>
<line x1="393.7" y1="683.97" x2="395.5" y2="683.97" stroke="#555" stroke-width="0.6"/>
<text x="393.6" y="685.72" text-anchor="end" font-size="6.5" class="b">Fatty acid degradation</text>
<line x1="393.7" y1="690.17" x2="395.5" y2="690.17" stroke="#555" stroke-width="0.6"/>
<text x="393.6" y="691.92" text-anchor="end" font-size="6.5" class="b">Glutathione metabolism</text>
<line x1="393.7" y1="696.37" x2="395.5" y2="696.37" stroke="#555" stroke-width="0.6"/>
<text x="393.6" y="698.13" text-anchor="end" font-size="6.5" class="b">beta-Alanine metabolism</text>
<line x1="393.7" y1="702.58" x2="395.5" y2="702.58" stroke="#555" stroke-width="0.6"/>
<text x="393.6" y="704.33" text-anchor="end" font-size="6.5" class="b">Glycolysis/Gluconeogenesis</text>
<line x1="393.7" y1="708.78" x2="395.5" y2="708.78" stroke="#555" stroke-width="0.6"/>
<text x="393.6" y="710.53" text-anchor="end" font-size="6.5" class="b">Peroxisome</text>
<line x1="420.4" y1="712.5" x2="420.4" y2="714" stroke="#555" stroke-width="0.6"/>
<text transform="translate(420.4 716.5) scale(1.1 1)" text-anchor="middle" font-size="5.0" class="l">0.06</text>
<line x1="450.4" y1="712.5" x2="450.4" y2="714" stroke="#555" stroke-width="0.6"/>
<text transform="translate(450.4 716.5) scale(1.1 1)" text-anchor="middle" font-size="5.0" class="l">0.10</text>
<line x1="480.4" y1="712.5" x2="480.4" y2="714" stroke="#555" stroke-width="0.6"/>
<text transform="translate(480.4 716.5) scale(1.1 1)" text-anchor="middle" font-size="5.0" class="l">0.14</text>
<ellipse cx="499.9" cy="590.92" rx="0.9" ry="0.75" fill="#1c08e0"/>
<ellipse cx="499.9" cy="597.12" rx="1.55" ry="1.25" fill="#a24745"/>
<ellipse cx="493" cy="603.33" rx="2.1" ry="1.7" fill="#ffe000"/>
<ellipse cx="484.6" cy="609.53" rx="3.2" ry="2.4" fill="#ff0000"/>
<ellipse cx="477.1" cy="615.73" rx="2.1" ry="1.7" fill="#ff8d00"/>
<ellipse cx="472.6" cy="621.94" rx="2.1" ry="1.7" fill="#ff8d00"/>
<ellipse cx="457.9" cy="628.14" rx="2.1" ry="1.7" fill="#5614a9"/>
<ellipse cx="457.9" cy="634.34" rx="2.75" ry="2.1" fill="#ff8d00"/>
<ellipse cx="442.6" cy="640.55" rx="0.9" ry="0.75" fill="#0302f7"/>
<ellipse cx="442.9" cy="646.75" rx="1.55" ry="1.25" fill="#5614a9"/>
<ellipse cx="439.9" cy="652.95" rx="1.55" ry="1.25" fill="#5614a9"/>
<ellipse cx="436.9" cy="659.15" rx="2.75" ry="2.1" fill="#ff8d00"/>
<ellipse cx="432.1" cy="665.36" rx="2.1" ry="1.7" fill="#7a2c81"/>
<ellipse cx="432.1" cy="671.56" rx="2.1" ry="1.7" fill="#bb6722"/>
<ellipse cx="426.1" cy="677.76" rx="2.1" ry="1.7" fill="#5614a9"/>
<ellipse cx="424.6" cy="683.97" rx="2.1" ry="1.7" fill="#a24745"/>
<ellipse cx="423.4" cy="690.17" rx="2.1" ry="1.7" fill="#5614a9"/>
<ellipse cx="423.1" cy="696.37" rx="1.55" ry="1.25" fill="#1c08e0"/>
<ellipse cx="406.6" cy="702.58" rx="1.55" ry="1.25" fill="#0302f7"/>
<ellipse cx="400.6" cy="708.78" rx="2.1" ry="1.7" fill="#0302f7"/>
<text x="380.2" y="586.8" font-size="15" class="b" style="stroke-width:0.45px">J</text>
<text transform="translate(401.3 584.3) scale(1.04 1)" font-size="7.1" class="b">28-dpe vs Normal_down</text>
<rect x="511.8" y="659.4" width="7.3" height="25.4" fill="url(#cg)"/>
<text transform="translate(508.8 657.72) scale(1.04 1)" font-size="5.5" class="l">-log10(Pvalue)</text>
<text transform="translate(521.4 664.12) scale(1.04 1)" font-size="5.5" class="l">4</text>
<text transform="translate(521.4 670.92) scale(1.04 1)" font-size="5.5" class="l">3</text>
<text transform="translate(521.4 677.72) scale(1.04 1)" font-size="5.5" class="l">2</text>
<text transform="translate(521.4 685.02) scale(1.04 1)" font-size="5.5" class="l">1</text>
<text transform="translate(512.1 616.52) scale(1.04 1)" font-size="5.5" class="l">Number</text>
<ellipse cx="515.3" cy="621" rx="1" ry="0.75" fill="#000"/>
<text transform="translate(520.1 622.65) scale(1.04 1)" font-size="5.5" class="l">1</text>
<ellipse cx="515.3" cy="625.6" rx="1.85" ry="1" fill="#000"/>
<text transform="translate(520.1 627.25) scale(1.04 1)" font-size="5.5" class="l">2</text>
<ellipse cx="515.3" cy="630.5" rx="2.1" ry="1.3" fill="#000"/>
<text transform="translate(520.1 632.15) scale(1.04 1)" font-size="5.5" class="l">3</text>
<ellipse cx="515.3" cy="635.8" rx="2.4" ry="1.55" fill="#000"/>
<text transform="translate(520.1 637.45) scale(1.04 1)" font-size="5.5" class="l">4</text>
<ellipse cx="515.3" cy="641.3" rx="2.65" ry="1.85" fill="#000"/>
<text transform="translate(520.1 642.95) scale(1.04 1)" font-size="5.5" class="l">5</text>
<ellipse cx="515.3" cy="646.4" rx="2.8" ry="2.25" fill="#000"/>
<text transform="translate(520.1 648.05) scale(1.04 1)" font-size="5.5" class="l">6</text>
</svg>
</body></html>
